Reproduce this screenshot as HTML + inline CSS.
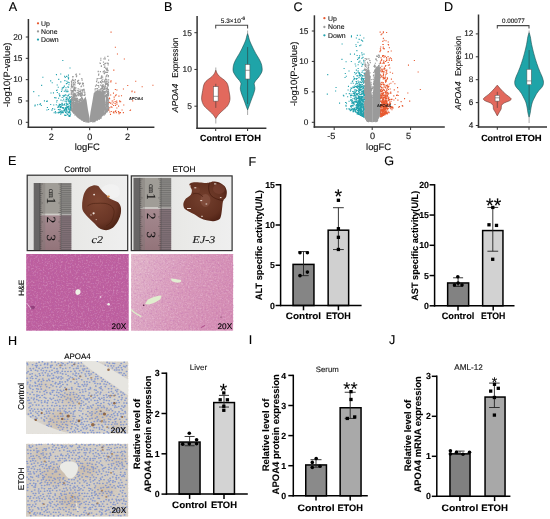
<!DOCTYPE html>
<html><head><meta charset="utf-8"><style>
html,body{margin:0;padding:0;background:#fff;}
text{stroke:currentColor;stroke-width:0.12px;}
svg{text-rendering:geometricPrecision;}
svg{display:block;}
</style></head><body>
<svg width="550" height="519" viewBox="0 0 550 519" font-family='"Liberation Sans", Arial, Helvetica, sans-serif'>
<rect width="550" height="519" fill="#fff"/>
<text x="8.85" y="10.9" font-size="12.6">A</text>
<text x="163.9" y="10.9" font-size="12.6">B</text>
<text x="293.6" y="11.1" font-size="12.6">C</text>
<text x="443.9" y="10.9" font-size="12.6">D</text>
<text x="7.9" y="164.9" font-size="12.6">E</text>
<text x="248.5" y="165.8" font-size="12.6">F</text>
<text x="384.3" y="164.8" font-size="12.6">G</text>
<text x="7.9" y="344.9" font-size="12.6">H</text>
<text x="248.7" y="343.8" font-size="12.6">I</text>
<text x="388.9" y="343.7" font-size="12.6">J</text>
<line x1="28.4" y1="19" x2="28.4" y2="127.95" stroke="#333" stroke-width="1.5" />
<line x1="27.65" y1="127.2" x2="154.4" y2="127.2" stroke="#333" stroke-width="1.5" />
<line x1="25.8" y1="122.3" x2="28.4" y2="122.3" stroke="#333" stroke-width="1" />
<text x="22.4" y="124.8" text-anchor="end" fill="#1a1a1a" font-size="8.3">0</text>
<line x1="25.8" y1="100.97" x2="28.4" y2="100.97" stroke="#333" stroke-width="1" />
<text x="22.4" y="103.47" text-anchor="end" fill="#1a1a1a" font-size="8.3">5</text>
<line x1="25.8" y1="79.65" x2="28.4" y2="79.65" stroke="#333" stroke-width="1" />
<text x="22.4" y="82.15" text-anchor="end" fill="#1a1a1a" font-size="8.3">10</text>
<line x1="25.8" y1="58.33" x2="28.4" y2="58.33" stroke="#333" stroke-width="1" />
<text x="22.4" y="60.83" text-anchor="end" fill="#1a1a1a" font-size="8.3">15</text>
<line x1="25.8" y1="37" x2="28.4" y2="37" stroke="#333" stroke-width="1" />
<text x="22.4" y="39.5" text-anchor="end" fill="#1a1a1a" font-size="8.3">20</text>
<line x1="51.8" y1="127.2" x2="51.8" y2="130.2" stroke="#333" stroke-width="1" />
<text x="51.2" y="139.6" text-anchor="middle" fill="#1a1a1a" font-size="9.1">2</text>
<line x1="89.7" y1="127.2" x2="89.7" y2="130.2" stroke="#333" stroke-width="1" />
<text x="89.7" y="139.6" text-anchor="middle" fill="#1a1a1a" font-size="9.1">0</text>
<line x1="127.6" y1="127.2" x2="127.6" y2="130.2" stroke="#333" stroke-width="1" />
<text x="127.6" y="139.6" text-anchor="middle" fill="#1a1a1a" font-size="9.1">2</text>
<text x="87.2" y="150" text-anchor="middle" fill="#111" font-size="9.4">logFC</text>
<text transform="translate(10.2,74.7) rotate(-90)" text-anchor="middle" fill="#111" font-size="9.2" textLength="64.4" lengthAdjust="spacingAndGlyphs">-log10(P-value)</text>
<circle cx="38" cy="23.3" r="1.15" fill="#E8592F"/>
<text x="41" y="25.7" fill="#222" font-size="6.9">Up</text>
<circle cx="38" cy="31.4" r="1.15" fill="#9A9A9A"/>
<text x="41" y="33.8" fill="#222" font-size="6.9">None</text>
<circle cx="38" cy="39.6" r="1.15" fill="#22A2AE"/>
<text x="41" y="42" fill="#222" font-size="6.9">Down</text>
<path d="M72.5 104L75 103L78 102.5L81 101.5L84 99L85.5 96.5L86.6 100.5L88 110L89.7 118.5L89.7 122.2L85 121.6L80 119.6L77 117.3L75 114.8L73 111.6L72.2 108Z" fill="#9A9A9A"/>
<path d="M89.7 118.5L90.5 112L92.3 102L93.8 93L96 91L99 90.5L102 91.5L104.5 93.5L105.3 98L105.3 106L104.8 111.5L104 114.8L100 118.8L95 121.4L89.7 122.2Z" fill="#9A9A9A"/>
<path d="M105.18 103.23h1.2M73.59 94.25h1.2M107.38 56.27h1.2M71.29 103.69h1.2M106.46 81.29h1.2M70.17 106.72h1.2M107.31 102.38h1.2M72.92 101.4h1.2M106.69 88.44h1.2M77.38 102.13h1.2M106.95 84.72h1.2M81.68 94.86h1.2M106.5 100.98h1.2M104.58 86.51h1.2M98.17 74.06h1.2M77.6 82.23h1.2M79.89 98.96h1.2M76.8 102.14h1.2M104.92 110h1.2M70.78 106.67h1.2M83.88 95.09h1.2M107.31 93.24h1.2M70.83 81.71h1.2M70.96 98.6h1.2M98.08 82.47h1.2M100.21 78.39h1.2M104.29 81.23h1.2M73.19 101.41h1.2M107.8 75.54h1.2M73.33 97.19h1.2M71.28 100.14h1.2M104.48 96.74h1.2M100.7 78.15h1.2M101.88 86.32h1.2M82.1 99.05h1.2M107.37 100.73h1.2M72.98 112.95h1.2M70.87 108.81h1.2M100.75 66.36h1.2M70.56 102.47h1.2M104.5 112.72h1.2M105.5 92.23h1.2M103.48 89.51h1.2M105.94 102.34h1.2M78.23 91.04h1.2M82.29 92.2h1.2M105.99 101.37h1.2M106.12 110.74h1.2M102.19 79.23h1.2M78.04 95.67h1.2M106.85 99.18h1.2M106.89 99.4h1.2M106.42 70.17h1.2M101.07 80.24h1.2M105.22 111.09h1.2M74.13 99h1.2M82.09 90.28h1.2M70.82 107.8h1.2M96.01 81.63h1.2M106.85 109.23h1.2M105.28 111.64h1.2M72.5 76.6h1.2M92.93 121.71h1.2M96.72 90.44h1.2M104 88.54h1.2M96.86 88.56h1.2M107.39 83.98h1.2M79.94 90.78h1.2M104.13 80.27h1.2M70.55 104.85h1.2M78.95 84.49h1.2M108.05 92.85h1.2M107.3 110.23h1.2M79.66 91.35h1.2M106.8 97.68h1.2M107.86 93.31h1.2M71.86 80.12h1.2M105.98 103.54h1.2M76.08 99.92h1.2M107.62 63.28h1.2M72.94 85.1h1.2M107.03 106.44h1.2M107.25 83.17h1.2M107.96 60.21h1.2M74.47 88.4h1.2M104.86 79.58h1.2M71.65 110.88h1.2M73.43 100.4h1.2M98.38 90.09h1.2M98.43 78.51h1.2M73.83 89.49h1.2M104.96 68.07h1.2M104.77 104.54h1.2M105.57 76.41h1.2M76.84 100.4h1.2M70.99 102.07h1.2M106.78 94.25h1.2M98.08 82.65h1.2M73.36 101.79h1.2M75.6 99.88h1.2M78.51 101.43h1.2M106.85 93.14h1.2M104.83 105.24h1.2M102.5 89.76h1.2M101.75 81.46h1.2M106.45 95.19h1.2M81.22 78.66h1.2M74.5 102.62h1.2M71.53 110.09h1.2M76.69 100.34h1.2M80.02 93.68h1.2M104.8 107.06h1.2M72.03 76.94h1.2M70.56 102.47h1.2M75.86 98.92h1.2M70.2 89.01h1.2M102.22 88.62h1.2M106.36 97.56h1.2M104.9 112.18h1.2M76.12 95.43h1.2M70.62 104.54h1.2M105.97 98.99h1.2M105.04 104.53h1.2M85.77 121.84h1.2M107.37 85.23h1.2M70.85 105.73h1.2M76.15 99.39h1.2M75.52 101.23h1.2M107.55 98.48h1.2M77.62 83.44h1.2M82.63 89.5h1.2M75.29 87.93h1.2M74.8 94.62h1.2M81.09 93.23h1.2M71.36 108.87h1.2M107.56 64.78h1.2M100.61 117.76h1.2M106.51 96.83h1.2M101.92 85.58h1.2M97.65 82.74h1.2M72.12 98.07h1.2M104.69 58.94h1.2M95.38 88.54h1.2M73.89 95.63h1.2M106.19 112.09h1.2M104.08 87.29h1.2M71.33 83.87h1.2M81.34 89.94h1.2M77.41 92.54h1.2M72.05 110.81h1.2M104.27 81.44h1.2M105.27 95.45h1.2M79.66 100.12h1.2M77.21 90.57h1.2M107.59 109.63h1.2M106.21 108.98h1.2M70.82 102.3h1.2M80.12 100.69h1.2M72.9 84.83h1.2M73.5 93.45h1.2M106.93 110.41h1.2M107.53 107.74h1.2M71.64 108.32h1.2M107.34 95.24h1.2M71.65 105.47h1.2M107.8 91.45h1.2M105.65 105.58h1.2M104.53 113.83h1.2M73.3 88.17h1.2M71.7 109.74h1.2M71.08 98.96h1.2M107.13 105.1h1.2M96.69 120.21h1.2M71.04 105.7h1.2M105.87 88.6h1.2M80.62 98.98h1.2M104.62 113.42h1.2M107.18 108.13h1.2M70.19 100.18h1.2M106.87 104.62h1.2M83.29 95.38h1.2M106.68 83.26h1.2M72.55 111.95h1.2M74.02 99.99h1.2M76.31 92.89h1.2M102.09 88.15h1.2M101.64 90.95h1.2M106.93 108.78h1.2M72 97.17h1.2M107.81 107.79h1.2M100.49 88.56h1.2M107.33 102.56h1.2M105.53 108.26h1.2M72.09 111.42h1.2M77.81 94.09h1.2M72.33 102.98h1.2M80.65 86.76h1.2M71.16 108.76h1.2M70.55 107.27h1.2M106.51 111.51h1.2M107.52 108.56h1.2M106.17 103.79h1.2M104.63 113.66h1.2M70.51 101.69h1.2M77.91 92.91h1.2M106.07 105.96h1.2M107.65 107.49h1.2M74.48 93.37h1.2M105.46 110.37h1.2M105.69 84.1h1.2M107.81 108.77h1.2M79.65 99.88h1.2M79.31 100.09h1.2M102.56 92.4h1.2M71.54 106.42h1.2M102.93 86.81h1.2M86.48 121.95h1.2M105.82 97.33h1.2M107.85 90.73h1.2M80.95 95.69h1.2M81.01 97.32h1.2M105.54 105h1.2M101.25 86.71h1.2M73.92 87.36h1.2M104.18 66.12h1.2M71.03 98.81h1.2M107.77 101.77h1.2M79.75 99.69h1.2M70.75 86.93h1.2M105.95 75.77h1.2M71.07 105.66h1.2M74.37 96.35h1.2M106.92 99.05h1.2M102.89 62.17h1.2M85.82 121.9h1.2M75.98 96.22h1.2M71.23 109.66h1.2M81.55 80.16h1.2M94.52 90.99h1.2M74.39 84.98h1.2M94.94 86.05h1.2M106.02 98.73h1.2M72.03 90.57h1.2M72.49 103.76h1.2M70.49 103.77h1.2M106.77 111.21h1.2M72.16 111.14h1.2M72.3 95.26h1.2M71.97 100.35h1.2M105.56 90.27h1.2M92.13 121.98h1.2M104.89 112.47h1.2M74.54 93.69h1.2M81.9 84.04h1.2M74.83 90.73h1.2M74.14 98.5h1.2M107.32 104.13h1.2M72.58 92.04h1.2M81.77 98.26h1.2M71.48 97.08h1.2M106.19 88.66h1.2M104.24 72.74h1.2M106.19 91.55h1.2M81.17 97.14h1.2M102.73 84.84h1.2M72.21 79.42h1.2M105.91 101.05h1.2M78.95 83.32h1.2M74.33 81.21h1.2M104.33 112.65h1.2M107.63 104.13h1.2M71.27 101.01h1.2M107.4 91.72h1.2M102.57 91.37h1.2M107.01 97.64h1.2M106.15 70.1h1.2M102.69 71.85h1.2M70.91 102.58h1.2M105.52 111.5h1.2M71.36 109.81h1.2M103.09 64.68h1.2M71.06 110.43h1.2M70.18 108.7h1.2M100.25 58.27h1.2M70.72 92.77h1.2M79.03 93.61h1.2M79.81 94.61h1.2M73.13 96.3h1.2M70.67 102.02h1.2M104.81 111.32h1.2M77.94 93.17h1.2M106.55 68.18h1.2M83.11 89.4h1.2M75.52 101.18h1.2M105.99 108.9h1.2M75.29 102.38h1.2M106.13 102.39h1.2M80.5 86.67h1.2M106.05 110.92h1.2M105.18 102.03h1.2M100.2 60.07h1.2M77.38 83.42h1.2M107.21 110.31h1.2M76.71 101.35h1.2M78.48 99.55h1.2M70.73 106.01h1.2M104.78 109.56h1.2M105.62 81.77h1.2M106.06 106.86h1.2M73.82 100.45h1.2M70.21 101.4h1.2M106.92 105.8h1.2M101.57 91.28h1.2M79.8 91.79h1.2M81.16 98.44h1.2M101.76 90.66h1.2M107.24 70.32h1.2M79.4 89.27h1.2M71.02 102.19h1.2M105.49 96.25h1.2M72.59 99.72h1.2M103.04 92.07h1.2M99.92 85.05h1.2M71.02 108.66h1.2M82.68 89.84h1.2M104.7 108.4h1.2M106.23 96.4h1.2M106.63 87.41h1.2M71.49 87.72h1.2M72.8 112.48h1.2M106.11 95.67h1.2M106.5 109.59h1.2M103.82 114.02h1.2M71.91 97.17h1.2M88.1 122.08h1.2M106.3 80.99h1.2M78.52 94.78h1.2M79.91 100.98h1.2M84.4 94.44h1.2M107.15 85.83h1.2M97.59 71.63h1.2M78.71 101.32h1.2M70.78 104h1.2M77.6 88.91h1.2M72.42 102.19h1.2M101.28 88.03h1.2M107.56 107.84h1.2M97.69 71.39h1.2M81.11 100.8h1.2M103.22 71.66h1.2M101.19 85.73h1.2M107.56 106.13h1.2M75.84 76.69h1.2M104.84 95.48h1.2M103.6 81.84h1.2M71.94 97.8h1.2M72.52 90.8h1.2M70.94 96.39h1.2M103.77 92.28h1.2M100.04 82.32h1.2M103.07 86.44h1.2M104.9 84.47h1.2M106.95 98.37h1.2M107.68 108.77h1.2M107.8 109.66h1.2M70.83 107.52h1.2M72.91 96.11h1.2M82.8 83.36h1.2M71.45 92.26h1.2M71.28 109h1.2M105.6 112.14h1.2M104.92 95.51h1.2M107.28 92.67h1.2M72 111.75h1.2M107.4 102.93h1.2M77.34 102.42h1.2M73.11 89.61h1.2M71.42 108.8h1.2M72.11 91.4h1.2M71.57 111.18h1.2M73.43 113.3h1.2M104.88 113.13h1.2M82.88 121.08h1.2M105.77 110.35h1.2M104.57 113.43h1.2M96.66 78.68h1.2M98.21 87.18h1.2M106.49 74.73h1.2M108.01 79.94h1.2M70.19 109.55h1.2M70.22 104.86h1.2M102.62 71.84h1.2M99.82 63.48h1.2M71.51 104.09h1.2M70.56 102.38h1.2M107.69 84.53h1.2M108.04 108.76h1.2M84.09 95.43h1.2M103.9 92.47h1.2M72.59 99.43h1.2M105.61 106.24h1.2M75.6 98.14h1.2M104.28 89.1h1.2M81.56 90.91h1.2M72.94 82.57h1.2M106.11 96.62h1.2M104.39 88.64h1.2M71.69 103.31h1.2M106.16 79.7h1.2M107.09 95.82h1.2M75.03 101.16h1.2M103.37 58.79h1.2M102.24 90.52h1.2M73.96 95.37h1.2M105.07 107.68h1.2M103.96 113.39h1.2M78.71 93.8h1.2M70.72 103.13h1.2M71.47 104.86h1.2M83.78 90.97h1.2M74.92 95.85h1.2M107.74 95.97h1.2M104.15 63.78h1.2M100.05 90.21h1.2M71.94 109.92h1.2M106.5 105.7h1.2M102.2 90.25h1.2M70.19 100.09h1.2M73.68 88.45h1.2M76.17 95.91h1.2M107.18 107.59h1.2M105.67 108.98h1.2M78.91 91.53h1.2M105.86 83.08h1.2M71.29 106.6h1.2M70.72 93.03h1.2M100.87 76.88h1.2M105.7 109.7h1.2M107.73 106.35h1.2M77.88 91.01h1.2M105.87 97.86h1.2M72.54 112.16h1.2M71.06 109.54h1.2M100.18 89.1h1.2M104.03 93.76h1.2M75.62 99.51h1.2M81.79 95.07h1.2M70.42 106.86h1.2M97.95 85.69h1.2M73.22 98.87h1.2M105.58 100.73h1.2M71.42 103.52h1.2M103.7 70.88h1.2M105.78 69.19h1.2M104.54 85.53h1.2M107.74 103.89h1.2M70.88 109.43h1.2M99.96 81.6h1.2M75.71 74.13h1.2M106.55 63.07h1.2M105.22 83.52h1.2M102.31 88.62h1.2M72.47 97.04h1.2M107.7 100.42h1.2M104.26 93.63h1.2M74.27 114.79h1.2M104.75 95.6h1.2M70.93 86.5h1.2M95.96 81.71h1.2M100.78 65.86h1.2M87.57 122.07h1.2M83.92 121.51h1.2M107.49 95.73h1.2M107.7 99.96h1.2M70.58 105.42h1.2M81.58 93.65h1.2M98.49 89.87h1.2M107.65 85.91h1.2M75.25 74.6h1.2M107.33 102.68h1.2M72.8 99.91h1.2M103.84 73.71h1.2M79.74 98.84h1.2M106.11 110.02h1.2M70.2 90.75h1.2M72.45 86.67h1.2M81.03 94.11h1.2M106.37 106.19h1.2M82.04 99.88h1.2M71.27 99.89h1.2M76.06 75.89h1.2M104.85 72.14h1.2M84.13 92.87h1.2M71.75 86.41h1.2M80.1 99.17h1.2M100.18 118.31h1.2M73.55 99.88h1.2M74.72 82.66h1.2M102.33 81.97h1.2M76.59 101.71h1.2M105.85 108.76h1.2M70.31 108.13h1.2M73.32 94.31h1.2M74.49 102.8h1.2M100.5 89.71h1.2M71.22 86.9h1.2M101.79 88.37h1.2M107.53 104.72h1.2M106.87 88.27h1.2M103.6 73.5h1.2M72.56 99.33h1.2M106.25 100.6h1.2M105.91 97.98h1.2M105.43 109.33h1.2M71.24 91.39h1.2M70.73 100.1h1.2M104.71 91.67h1.2M79.93 95.4h1.2M95.86 84.93h1.2M73.94 96.57h1.2M75.53 99.37h1.2M105.49 84.41h1.2M94.48 89.16h1.2M71.2 105.55h1.2M103.75 67.51h1.2M76.91 98.86h1.2M77.17 80.91h1.2M107.37 99.4h1.2M107.88 94.02h1.2M70.81 99.78h1.2M73.58 100.63h1.2M106.91 100.51h1.2M73.51 90.59h1.2M82.41 84.05h1.2M71.91 99.51h1.2M79.14 74.21h1.2M79.85 96.16h1.2M80.17 95.48h1.2M106.15 90.14h1.2M70.74 109.72h1.2M71.26 108.79h1.2M70.9 108.44h1.2M70.63 109.55h1.2M106.86 94.27h1.2M104.65 95.89h1.2M105.18 102.7h1.2M107.88 103.18h1.2M107.91 99.86h1.2M73.37 101.42h1.2M75.73 102.77h1.2M107.85 94.03h1.2M80.91 85.98h1.2M105.96 102.64h1.2M70.4 102.03h1.2M106.08 101.65h1.2M71.09 82.45h1.2M106.71 103.98h1.2M70.63 94.39h1.2M78.98 101.07h1.2M96.56 85.5h1.2M83.95 121.45h1.2M106.2 109.7h1.2M70.88 85.19h1.2M105.73 94.55h1.2M101.37 88.31h1.2M72.37 102.19h1.2M105.94 102.22h1.2M77.94 101.15h1.2M81 92.96h1.2M79.4 83.11h1.2M73.69 95.22h1.2M102.02 77.11h1.2M105.41 104.47h1.2M93.73 121.6h1.2M81.9 83.04h1.2M105.8 111.27h1.2M71.14 102.05h1.2M73.72 98.66h1.2M71.2 90.48h1.2M72.96 80.59h1.2M74.43 97.82h1.2M70.22 108.87h1.2M105.81 100.03h1.2M99.36 63.01h1.2M71.61 100.17h1.2M76.98 81.28h1.2M79.69 83.37h1.2M105.3 96.27h1.2M72.79 97.38h1.2M74.58 98.9h1.2M76.79 98.27h1.2M71.61 105.21h1.2M101.87 86.97h1.2M98.6 119.34h1.2M106.41 111.22h1.2M76.24 101.04h1.2M73.04 90.44h1.2M106.93 72.33h1.2M80.44 92.94h1.2M71.23 100.08h1.2M72.24 93.92h1.2M98.72 90.09h1.2M81.41 99.8h1.2M71.23 99.93h1.2M72.82 103.31h1.2M107.53 84.78h1.2M105.07 86.89h1.2M74.35 90.39h1.2M81.45 120.46h1.2M107.3 102.84h1.2M106.85 109.86h1.2M71.08 81.07h1.2M73.43 95.31h1.2M105.86 72.4h1.2M106.31 111.13h1.2M74.06 84.01h1.2M83.52 89.3h1.2M87.53 122.07h1.2M104.73 109.88h1.2M71.2 96.85h1.2M103.07 89.17h1.2M72.33 102.13h1.2M73.42 88.88h1.2M106.5 109.14h1.2M106.76 95.49h1.2M70.37 104.05h1.2M70.81 103.36h1.2M105.18 78.22h1.2M74.46 99.93h1.2M104.59 93.12h1.2M96.32 80.08h1.2M105.82 106.8h1.2M94.26 121.54h1.2M73.63 102.68h1.2M107.65 76.77h1.2M107.97 108.42h1.2M101.17 75.77h1.2M105.16 111.86h1.2M106.75 105.77h1.2M104.46 88.84h1.2M107.16 109.19h1.2M106.4 90.88h1.2M107.3 103.34h1.2M71.05 86.15h1.2M105.8 111.59h1.2M73.27 101.48h1.2M106.25 109.41h1.2M104.81 63.33h1.2M83.62 121.37h1.2M72.31 94.84h1.2M105.28 106.64h1.2M71.68 108.42h1.2M101.78 85.16h1.2M70.81 110.13h1.2M70.39 104.71h1.2M74.99 90.9h1.2M76.78 94.82h1.2M107.84 89.51h1.2M107.2 56.29h1.2M72 102.69h1.2M107.99 82.08h1.2M78.03 80.33h1.2M105.65 107.06h1.2M104.96 84.44h1.2M85.34 121.91h1.2M106.86 83.62h1.2M73.15 84.09h1.2M101.03 82.86h1.2M75.07 90.14h1.2M106.49 104.58h1.2M99.81 71.53h1.2M72.74 102.95h1.2M70.94 83.9h1.2M104.65 82.96h1.2M107.12 89.4h1.2M74.14 87.01h1.2M82.91 85.85h1.2M71.56 102.25h1.2M72.96 101.61h1.2M103.57 91.31h1.2M105.87 95.93h1.2M104.68 113.97h1.2M84.17 92.38h1.2M108.03 95.1h1.2M74.76 79.6h1.2M107.48 70.63h1.2M103.46 115.09h1.2M106.7 69.35h1.2M97.95 75.18h1.2M104.25 57.27h1.2" stroke="#9A9A9A" stroke-width="1.2" fill="none"/>
<path d="M60.16 114.14h1.1M65.45 87.73h1.1M50.43 93.04h1.1M68.02 99.77h1.1M50.16 104.53h1.1M69.36 116.4h1.1M68.22 101.68h1.1M64.56 101.17h1.1M64.91 108.56h1.1M65.6 97.43h1.1M62.9 96.75h1.1M62.67 105.04h1.1M60.45 112.23h1.1M33.18 91.67h1.1M64.03 96.07h1.1M51.37 110.14h1.1M60.23 111.2h1.1M66.12 99.37h1.1M68.75 82.74h1.1M64.91 89.98h1.1M66.94 82.98h1.1M66.5 98.38h1.1M69.12 111.22h1.1M67.52 91.22h1.1M68.59 94.31h1.1M60.95 91.54h1.1M54.98 113.02h1.1M57.71 87.23h1.1M59.41 95.83h1.1M68.92 115.47h1.1M57.75 106.44h1.1M57.92 106.97h1.1M65.75 91.78h1.1M68.58 112.07h1.1M65.85 109.09h1.1M57.31 107.57h1.1M67.3 106.59h1.1M58.07 98.27h1.1M70.09 114.05h1.1M58.61 93.83h1.1M64.59 109.19h1.1M60.59 106.43h1.1M67.83 95.39h1.1M65.76 109.4h1.1M69.95 109.73h1.1M46.79 101.11h1.1M61.46 112.1h1.1M61.49 105.51h1.1M69.33 101.1h1.1M60.68 110.69h1.1M67.2 107.6h1.1M56.51 100.55h1.1M67.1 114.42h1.1M67.47 104.17h1.1M62.33 87.83h1.1M68.42 107.84h1.1M69.89 105.01h1.1M53.19 104.99h1.1M59.27 95.39h1.1M67.92 112.75h1.1M56.03 90.44h1.1M61.27 104.98h1.1M65.5 91.26h1.1M62.26 60.55h1.1M59.22 106.9h1.1M67.12 91.65h1.1M39.99 103.86h1.1M62.78 107.62h1.1M58.17 79.42h1.1M69.85 107.74h1.1M67.44 114.77h1.1M57.86 109.51h1.1M66.63 111.99h1.1M63.98 103.97h1.1M62.43 95.44h1.1M60.67 106.99h1.1M66.37 81.24h1.1M56.46 112.74h1.1M69.47 103.49h1.1M65.76 113.06h1.1M59.9 104.66h1.1M67.8 95.71h1.1M65.83 107.1h1.1M54.82 111.66h1.1M34.6 105.09h1.1M66.42 111.24h1.1M47.97 109.47h1.1M65.76 102.03h1.1M67.69 82.2h1.1M66.42 104.11h1.1M66.49 99.6h1.1M65.62 105.38h1.1M61.47 89.86h1.1M62.15 111.27h1.1M68.57 112.29h1.1M68.46 106.13h1.1M66.94 107.38h1.1M43.89 100.87h1.1M57.67 105.7h1.1M63.96 76.26h1.1M61.73 107.58h1.1M61.84 87.97h1.1M59.02 112.33h1.1M66.8 114.05h1.1M68.13 78.02h1.1M66.06 76.42h1.1M63.06 87.36h1.1M41.09 85.39h1.1M61.72 88.16h1.1M58.75 104.27h1.1M50.14 80.89h1.1M65.34 95.19h1.1M58.89 104.75h1.1M61.83 103.97h1.1M69.92 97.27h1.1M69.21 112.83h1.1M64.62 107.95h1.1M67.93 112.11h1.1M46.09 101.36h1.1M65.69 103.44h1.1M68.43 109.77h1.1M69.59 115.08h1.1M68.73 98.15h1.1M59.47 111.91h1.1M56.16 102.04h1.1M68.36 84.68h1.1M63.11 99.2h1.1M67.58 77.09h1.1M39.4 104.35h1.1M69.75 102.39h1.1M67.94 115.99h1.1M68.03 87.22h1.1M61.49 103.38h1.1M69.87 104.26h1.1M52.92 92.86h1.1M66.42 111h1.1M58.12 113.03h1.1M68.6 108.79h1.1M66.35 106.89h1.1M52.12 108.58h1.1M59.94 106.67h1.1M67.13 104.78h1.1M64.03 111.07h1.1M63.06 110.97h1.1M66.36 101.01h1.1M65.86 83.63h1.1M68.75 111.72h1.1M59.53 109.41h1.1M67.39 86.9h1.1M69.45 112.41h1.1M63.71 110.91h1.1M62.38 100.72h1.1M69.77 105.23h1.1M59.13 105.34h1.1M62.42 107.9h1.1M66.22 104.03h1.1M68.19 106.34h1.1M58.76 110.04h1.1M56.6 90h1.1M69.46 67.99h1.1M64.33 80.63h1.1M56.67 85h1.1M66.69 98.01h1.1M65.53 115.29h1.1M63.85 104.85h1.1M51.69 82.8h1.1M68.99 116.45h1.1M69.12 96.83h1.1M57.88 112.3h1.1M69.67 110.19h1.1M65.85 108.6h1.1M56.8 92.46h1.1M63.8 91.22h1.1M65.52 107.65h1.1M42.31 77.21h1.1M67.9 75.17h1.1M68.26 100.59h1.1M55.78 104.76h1.1M62.01 112.67h1.1M58.98 95.89h1.1M61.6 103.93h1.1M65.11 94.69h1.1M62.71 108.51h1.1M53.59 112.79h1.1M68.76 109.92h1.1M46.36 110.03h1.1M63.65 109.23h1.1M64.06 115.15h1.1M55.4 97.91h1.1M63.69 95.28h1.1M69.93 106.8h1.1M54.14 109.18h1.1M60.24 81.88h1.1M66.14 109.97h1.1M60.47 100.12h1.1M66.46 90.05h1.1M70.15 99.86h1.1M70.18 101.61h1.1M67.64 109.02h1.1M66.83 95.93h1.1M60.71 112.87h1.1M70.1 108.28h1.1M65.09 115.42h1.1M65.39 99.3h1.1M63.68 110.66h1.1M61.64 97.56h1.1M62.94 112.73h1.1M59.91 107.4h1.1M68.91 103.09h1.1M61.34 103.81h1.1M66.4 104.02h1.1M40.76 105.48h1.1M34.38 106.01h1.1M64.28 109.97h1.1M63.84 86.11h1.1M54.15 97.59h1.1M55.88 74.63h1.1M68.63 115.89h1.1M62.2 110.94h1.1M64.86 107.72h1.1M37.05 104.78h1.1M67.91 78.83h1.1M64.95 112.42h1.1M64.85 115.48h1.1M65.24 110.93h1.1M64.71 77.34h1.1M46.86 107.51h1.1M38.29 95.77h1.1M68.55 98.87h1.1M60.19 74.06h1.1" stroke="#22A2AE" stroke-width="1.1" fill="none"/>
<path d="M113.29 70.14h1.1M123.79 59.02h1.1M119.15 100.91h1.1M111.62 100.97h1.1M112.94 93.11h1.1M114.97 105.38h1.1M141.62 86.79h1.1M129.53 110.5h1.1M110.79 107h1.1M113.06 105.47h1.1M130.12 97.45h1.1M132.18 100.88h1.1M116.35 89.98h1.1M108.86 98.04h1.1M114.62 101.5h1.1M123.22 104.98h1.1M131.44 91.58h1.1M115.35 83.24h1.1M116.33 108.03h1.1M109.07 98.62h1.1M119.87 112.67h1.1M118.57 112.42h1.1M113.1 112.09h1.1M118.03 106.13h1.1M109.9 103.12h1.1M116.28 102.55h1.1M118.38 96.08h1.1M112.69 102.74h1.1M114.83 47.26h1.1M135.17 81.24h1.1M110.78 111.47h1.1M116.39 104.16h1.1M108.33 110.17h1.1M115.21 110.86h1.1M110.57 106.86h1.1M131.54 91.06h1.1M113.33 111.71h1.1M127.18 85.49h1.1M113.69 99.25h1.1M111.46 107.27h1.1M122.83 112.66h1.1M113.36 112.95h1.1M112.79 112.29h1.1M114.92 95.76h1.1M112.31 100.93h1.1M117.9 111.59h1.1M115.63 94.92h1.1M115.77 112.67h1.1M118.37 113.7h1.1M120.95 95.71h1.1M108.75 102.42h1.1M109.25 111.95h1.1M114.83 89.49h1.1M110.11 95.02h1.1M109.94 114.39h1.1M110.29 81.9h1.1M129.98 109.93h1.1M118.7 113.75h1.1M110.42 103.07h1.1M116.91 53.93h1.1M113.21 70.32h1.1M119.35 101.6h1.1M121.53 110.07h1.1M113.62 97.17h1.1M122.88 89.01h1.1M109.18 107.73h1.1M110.5 32.1h1.1M152.37 85.19h1.1M111.76 104.24h1.1M134.18 92.17h1.1M116.17 101.1h1.1M110.49 80.78h1.1M114.94 111.47h1.1M120.13 101.71h1.1M114.56 103.33h1.1" stroke="#E8592F" stroke-width="1.1" fill="none"/>
<text x="129" y="100.3" fill="#333" font-size="4.2">APOA4</text>
<line x1="314.4" y1="15.3" x2="314.4" y2="127.75" stroke="#333" stroke-width="1.5" />
<line x1="313.65" y1="127" x2="444.8" y2="127" stroke="#333" stroke-width="1.5" />
<line x1="311.8" y1="122.3" x2="314.4" y2="122.3" stroke="#333" stroke-width="1" />
<text x="308.4" y="124.8" text-anchor="end" fill="#1a1a1a" font-size="8.3">0</text>
<line x1="311.8" y1="91.86" x2="314.4" y2="91.86" stroke="#333" stroke-width="1" />
<text x="308.4" y="94.36" text-anchor="end" fill="#1a1a1a" font-size="8.3">5</text>
<line x1="311.8" y1="61.43" x2="314.4" y2="61.43" stroke="#333" stroke-width="1" />
<text x="308.4" y="63.93" text-anchor="end" fill="#1a1a1a" font-size="8.3">10</text>
<line x1="311.8" y1="31" x2="314.4" y2="31" stroke="#333" stroke-width="1" />
<text x="308.4" y="33.5" text-anchor="end" fill="#1a1a1a" font-size="8.3">15</text>
<line x1="334.2" y1="127" x2="334.2" y2="130" stroke="#333" stroke-width="1" />
<text x="331.4" y="139.4" text-anchor="middle" fill="#1a1a1a" font-size="9.1">-5</text>
<line x1="372.2" y1="127" x2="372.2" y2="130" stroke="#333" stroke-width="1" />
<text x="372.6" y="139.4" text-anchor="middle" fill="#1a1a1a" font-size="9.1">0</text>
<line x1="410.6" y1="127" x2="410.6" y2="130" stroke="#333" stroke-width="1" />
<text x="408.6" y="139.4" text-anchor="middle" fill="#1a1a1a" font-size="9.1">5</text>
<text x="378.6" y="150" text-anchor="middle" fill="#111" font-size="9.4">logFC</text>
<text transform="translate(297.4,73.8) rotate(-90)" text-anchor="middle" fill="#111" font-size="9.2" textLength="64.5" lengthAdjust="spacingAndGlyphs">-log10(P-value)</text>
<circle cx="324.4" cy="18.2" r="1.15" fill="#E8592F"/>
<text x="328" y="20.6" fill="#222" font-size="6.9">Up</text>
<circle cx="324.4" cy="27" r="1.15" fill="#9A9A9A"/>
<text x="328" y="29.4" fill="#222" font-size="6.9">None</text>
<circle cx="324.4" cy="35.3" r="1.15" fill="#22A2AE"/>
<text x="328" y="37.7" fill="#222" font-size="6.9">Down</text>
<path d="M350.9 109.49h1.1M359.6 103.49h1.1M361.06 103.38h1.1M360.86 102.87h1.1M343.23 95.85h1.1M358.7 86.21h1.1M353.3 93.15h1.1M359.93 94.53h1.1M356.79 104.16h1.1M355.6 90.08h1.1M357.62 87h1.1M360.17 102.85h1.1M362.27 108.25h1.1M360.24 111.06h1.1M362.47 109.84h1.1M362.9 79.63h1.1M360.29 107.91h1.1M360.04 98.36h1.1M355.04 86.6h1.1M356.85 108.28h1.1M356.34 50.6h1.1M359.69 35.19h1.1M361.08 80.08h1.1M363.26 37.96h1.1M361.4 107.1h1.1M360.91 114.4h1.1M360.98 111.38h1.1M359.64 113.14h1.1M362.58 112.86h1.1M362.05 104.73h1.1M359.37 102.58h1.1M354.64 64.03h1.1M356.48 102.43h1.1M359.49 109.51h1.1M355.79 102.22h1.1M356.25 75.76h1.1M361.07 94.47h1.1M352.42 105.89h1.1M359.45 113.65h1.1M359.35 97.46h1.1M362.73 103.97h1.1M357.62 81.02h1.1M363.81 73.49h1.1M362.28 103.77h1.1M360.32 113.98h1.1M354.07 96.01h1.1M362.73 100.71h1.1M361.74 70.94h1.1M362.32 101.78h1.1M359.85 108.11h1.1M356.08 104.48h1.1M358.2 104.16h1.1M362.48 79.93h1.1M359.24 108.23h1.1M362.31 111.44h1.1M359.35 112.83h1.1M357.79 111.84h1.1M351.91 105.33h1.1M359.38 109.2h1.1M362.69 81.11h1.1M362.53 107.09h1.1M362.49 87.67h1.1M361.55 91.64h1.1M351.19 88.36h1.1M363.44 96.75h1.1M362.8 88.34h1.1M361.81 84.47h1.1M355.77 93.57h1.1M362.34 114.68h1.1M360.87 111.07h1.1M360.27 99.22h1.1M355.68 101.17h1.1M357.7 58.05h1.1M355.19 66.03h1.1M360.56 105.54h1.1M363.59 78.66h1.1M344.49 77.43h1.1M357.55 109.38h1.1M358.66 102.91h1.1M361.93 97.21h1.1M363.82 93.3h1.1M358.29 110.74h1.1M348.77 93.64h1.1M356.15 101.72h1.1M347.9 86.41h1.1M354.98 111.91h1.1M359 113.93h1.1M354.46 102.29h1.1M363.36 93.23h1.1M353.73 108.7h1.1M355.96 98.04h1.1M360.59 113.15h1.1M355.48 91.21h1.1M363.36 96.16h1.1M357.66 109.8h1.1M362.34 99.6h1.1M356.53 106.43h1.1M352.54 93.8h1.1M362.36 113.19h1.1M354.82 110.64h1.1M360.82 39.96h1.1M362.73 115.13h1.1M361.62 88.74h1.1M358.69 108.15h1.1M360.9 87.19h1.1M360.92 114.52h1.1M361.92 115.22h1.1M359.88 112.29h1.1M352.08 80.94h1.1M363.97 99.08h1.1M361.63 81.75h1.1M361.27 97.2h1.1M358.41 73.11h1.1M360.14 107.16h1.1M354.56 108.04h1.1M355.99 79.21h1.1M357.32 102.26h1.1M361.07 99.43h1.1M356.58 55.49h1.1M361.24 96.31h1.1M359.62 87.93h1.1M361.03 100.72h1.1M362.24 111.75h1.1M352.87 110.04h1.1M362.82 106.97h1.1M360.25 98.4h1.1M363 116.26h1.1M352.7 83.21h1.1M363.32 99.29h1.1M363.56 116.18h1.1M356.88 107.49h1.1M352.91 103.36h1.1M361.44 104.2h1.1M362.22 92.82h1.1M357.57 85.81h1.1M352.53 111.63h1.1M353.23 79.7h1.1M355.63 81.45h1.1M357.42 42.27h1.1M354.05 109.49h1.1M352.91 95.9h1.1M355.09 92.22h1.1M361.26 52.88h1.1M363.38 106.07h1.1M355.15 109.76h1.1M357.29 112.56h1.1M359.24 105.92h1.1M362.13 75.81h1.1M354.49 110.39h1.1M361.3 104.25h1.1M345.23 102.57h1.1M356.97 107.81h1.1M356.79 35.39h1.1M345.44 105.31h1.1M361.79 86.69h1.1M359.61 96.19h1.1M357.06 113.15h1.1M359.39 112.7h1.1M339 103.09h1.1M351.96 102.33h1.1M358.79 90.97h1.1M354.2 99.69h1.1M359.29 94.3h1.1M362.88 87.18h1.1M349.97 95.65h1.1M361.69 76.15h1.1M353.65 95.73h1.1M356.81 85.92h1.1M361.95 75.53h1.1M362.23 93.42h1.1M350.49 110.36h1.1M362.51 85.92h1.1M363.68 113.31h1.1M356.04 101.4h1.1M360.66 105.34h1.1M357.04 102.92h1.1M361.24 77.46h1.1M360.9 110.15h1.1M362.77 115.05h1.1M359.76 110.92h1.1M356.11 108.66h1.1M361.85 116.5h1.1M363.85 105.97h1.1M362.48 102.44h1.1M352.5 105.29h1.1M357.67 111.48h1.1M363.02 110.91h1.1M361.41 114.38h1.1M356.44 98.55h1.1M362.61 115.9h1.1M363.05 101.79h1.1M363.3 76h1.1M353.11 93.53h1.1M356.28 83.38h1.1M354.75 73.95h1.1M361.06 78.92h1.1M354.07 72.46h1.1M357.89 106.46h1.1M359.92 82.06h1.1M360.03 109.7h1.1M351.57 100.7h1.1M359.49 89.87h1.1M363.43 101.68h1.1M361.14 104.21h1.1M356.83 113.03h1.1M359.44 104.72h1.1M359.16 114.58h1.1M350.76 107.11h1.1M353.95 54.13h1.1M359.95 111.74h1.1M356.74 110.43h1.1M355.21 84.16h1.1M360.19 87.45h1.1M362.43 112.2h1.1M363.49 107.69h1.1M359.41 60.97h1.1M354.2 108.4h1.1M360.38 84.53h1.1M356.21 112.2h1.1M361.46 93.9h1.1M359.25 84.58h1.1M360.36 45.03h1.1M357.61 114.2h1.1M352.32 98.72h1.1M360.81 112.13h1.1M356.88 83.82h1.1M360.72 98.27h1.1M360.65 99.71h1.1M359.76 109.35h1.1M354.89 95.2h1.1M360.69 109.08h1.1M359.45 100.86h1.1M359.62 103.19h1.1M354.53 97.89h1.1M360.1 104.53h1.1M355.81 93.98h1.1M359.88 115.33h1.1M363.64 91.91h1.1M363.71 109.76h1.1M361.17 115.79h1.1M353.44 101.85h1.1M363.93 99.2h1.1M360.41 89.62h1.1M358.65 89.36h1.1M358.94 109.45h1.1M361.26 86.24h1.1M363.2 90.63h1.1M362.96 115.32h1.1M353.11 76.74h1.1M363.63 116.92h1.1M363.86 95.36h1.1M362.61 107.13h1.1M363.45 114.66h1.1M358.7 73.64h1.1M362.87 93.14h1.1M350.88 36.91h1.1M352.37 87.11h1.1M356.92 76h1.1M363.12 92.34h1.1M358.9 75.25h1.1M354.56 108h1.1M359.49 110.69h1.1M353.46 103.47h1.1M343.55 68.55h1.1M359.94 105.41h1.1M361.45 89.3h1.1M358.95 99.39h1.1M355.97 100.94h1.1M358.53 99.84h1.1M356.05 101.69h1.1M361.68 111.05h1.1M361.75 115.42h1.1M358.78 110.22h1.1M358.96 102.29h1.1M363.45 85.9h1.1M346.15 108.84h1.1M356.71 104.24h1.1M358.28 90.14h1.1M362.96 112.37h1.1M362.43 106.03h1.1M350.09 89.9h1.1M357.31 75.88h1.1M359.94 82.29h1.1M362.92 109.3h1.1M358.52 114h1.1M363.43 108.03h1.1M351.67 106.02h1.1M362.76 108.19h1.1M326.76 94.09h1.1M356.65 94.95h1.1M358.99 108.2h1.1M362.75 115.98h1.1M352.83 103.53h1.1M362.83 108.34h1.1M357.89 101.59h1.1M351.55 108.49h1.1M357.59 70.86h1.1M354.53 101.61h1.1M360.81 114.4h1.1M362.58 104.64h1.1M357.59 105.81h1.1M354.96 101.74h1.1M358.77 57.67h1.1M362.43 101.56h1.1M363.83 101.95h1.1M362.16 103.19h1.1M362.99 60.2h1.1M363.14 70.27h1.1M357.71 100.78h1.1M357.28 104h1.1M360.99 114.62h1.1M345.54 61.74h1.1M350.56 83.31h1.1M350.48 94.14h1.1M359.85 108.59h1.1M360.79 96.32h1.1M360.06 111.43h1.1M353.79 98.4h1.1M355.87 73.12h1.1M345.7 93.81h1.1M355.52 96.86h1.1M352.37 109.89h1.1M360.96 103h1.1M357.3 97.96h1.1M361.77 91.33h1.1M363.35 108.46h1.1M360.73 74.45h1.1M360.67 86.61h1.1M358.92 102.71h1.1M362.14 41.31h1.1M360.81 93.11h1.1M362.65 97.86h1.1M358.16 62.3h1.1M362.28 107.02h1.1M363.11 94.94h1.1M356.02 107.75h1.1M360.41 86.99h1.1M359.2 92.44h1.1M363.83 108.75h1.1M358.24 109.14h1.1M359.85 113.68h1.1M361.53 111.19h1.1M355.33 96.83h1.1M355.74 101.77h1.1M363.51 113.87h1.1M352.85 87.32h1.1M360.65 105.39h1.1M358.43 77.58h1.1M353.46 108.34h1.1M353.59 79.08h1.1M356.82 112.79h1.1M362.88 110.36h1.1M357.08 103.37h1.1M360.67 108.7h1.1M363.29 117.15h1.1M360.81 112.13h1.1M359.86 101.61h1.1M357.42 106.06h1.1M358.96 109.21h1.1M355.8 86.65h1.1M352.58 109.23h1.1M358.49 97.77h1.1M363.6 94.23h1.1M360.29 113.13h1.1M363.46 116.59h1.1M360.89 97.49h1.1M361.16 86.72h1.1M363.59 106.82h1.1M358.88 96.53h1.1M353.91 78.4h1.1M360.69 115.32h1.1M360.2 85.81h1.1M356.59 113.52h1.1M363.67 99.1h1.1M350.41 97.22h1.1M363.48 82.44h1.1M359.78 106.78h1.1M355.85 97.96h1.1M351.79 81.8h1.1M363.83 86.19h1.1M359.82 109.11h1.1M361.48 91.72h1.1M349.83 110.58h1.1M358.62 101.25h1.1M359.35 98.14h1.1M358.33 108.3h1.1M344.76 73.44h1.1M363.51 115.63h1.1M362.34 79.94h1.1M347.12 96.72h1.1M358.28 98.49h1.1M363.78 99.12h1.1M356.58 113.2h1.1M363.57 102.06h1.1M352.99 102.62h1.1M355.86 99.48h1.1M358.45 93.44h1.1M359.05 55.85h1.1M362.49 81.72h1.1M356.57 90.53h1.1M353.65 109.76h1.1M350.27 105.72h1.1M359.27 89.49h1.1M357.86 97.75h1.1M356.03 87.13h1.1M348.35 108.92h1.1M358.15 86.47h1.1M348.51 101.28h1.1M351.74 102.97h1.1M351.24 99.95h1.1M352.83 93.24h1.1M363.89 86.9h1.1M355.39 86.21h1.1M360.96 106.44h1.1M357.58 106.11h1.1M363.05 115.63h1.1M358.59 39.33h1.1M360.68 62.97h1.1M355.38 44.73h1.1M359.97 113.88h1.1M350.36 88.01h1.1M359.83 89.61h1.1M356.29 78.51h1.1M341.41 59.39h1.1M355.83 70.12h1.1M357.34 98.58h1.1M360.58 105.85h1.1M355.52 112.12h1.1M362.97 115.76h1.1M361.1 79.07h1.1M355.81 38h1.1M363.06 116.85h1.1M361.35 58.33h1.1M350.48 99.53h1.1M359.22 85.81h1.1M351.45 103.14h1.1M356.34 105.8h1.1M361.26 66.2h1.1M355.82 107.11h1.1M359.75 111.36h1.1M363.33 61.87h1.1M362.48 64.13h1.1M362.69 91.13h1.1M358.17 109.18h1.1M350 100.31h1.1M362.42 57.35h1.1M360.66 106.8h1.1M360.91 110.6h1.1M362.78 113.69h1.1M358.23 82.42h1.1M360.87 115.49h1.1M363.36 101.53h1.1M355.19 89.75h1.1M357.61 68.49h1.1M358.4 84.14h1.1M361.31 101.28h1.1M359.48 74.11h1.1M361.61 105.12h1.1M352.62 109.21h1.1M349.47 109.07h1.1M348.46 70.94h1.1M353.08 111.66h1.1M361.36 78.35h1.1M360.35 75.73h1.1M355.84 109.48h1.1M358.75 83.69h1.1M358.27 105.74h1.1M362.17 100.46h1.1M356.38 100.76h1.1M352.46 105.72h1.1M358.22 104.67h1.1M354.54 111.14h1.1M359.27 105.98h1.1M357.15 104.64h1.1M358.3 112.1h1.1M355.23 112.03h1.1M360.73 99.79h1.1M358 114.47h1.1M353.6 104.67h1.1M360.49 111.48h1.1M362.21 106.82h1.1M341.56 43.95h1.1M361.26 96.28h1.1M362.29 101.45h1.1M355.98 94.9h1.1M361.63 98.74h1.1M361.77 103.47h1.1M361.02 91.2h1.1M361.66 116.45h1.1M360.49 100.24h1.1M358.25 114.48h1.1M358.47 107.62h1.1M363.22 93.7h1.1M355.61 107.07h1.1M360.72 99.47h1.1M352.22 108.93h1.1M349.8 91.29h1.1M360.6 98.87h1.1M360.41 109.17h1.1M357.51 104.73h1.1M358.37 58.2h1.1M335.06 90.98h1.1M363.31 79.05h1.1M363.48 114.22h1.1M354.07 94.03h1.1M358.97 72.86h1.1M360.01 101.77h1.1M361.49 72.46h1.1M358.16 97h1.1M359.18 105.73h1.1M363.51 104.31h1.1M359.43 99.82h1.1M356.27 107.9h1.1M363.55 73.1h1.1M358.52 62.07h1.1M357.11 113.56h1.1M358.1 105.35h1.1M355.93 90.9h1.1M351.48 95.53h1.1M361.07 80.14h1.1M360.95 109.62h1.1M357.59 110.87h1.1M360.1 107.74h1.1M359.11 87.33h1.1M363.85 98.32h1.1M354.21 95.01h1.1M361.47 40.57h1.1M362.3 78.48h1.1M353.91 90.03h1.1M356.43 105.2h1.1M362.73 115.17h1.1M356.61 78.55h1.1M355.73 46.5h1.1M356.66 112.83h1.1M357.55 72.3h1.1M342.84 95.18h1.1M352.17 91.56h1.1M345.74 76.27h1.1M349.84 54.11h1.1M358.95 103.68h1.1M363.08 114.24h1.1M360.89 112.21h1.1M356.5 108.47h1.1M356.64 107.94h1.1M350.08 106.5h1.1M361.98 104.34h1.1M358.24 95.81h1.1M356.6 114.07h1.1M359.24 75.48h1.1M355.1 100.94h1.1M360.35 96.78h1.1M359.78 102.35h1.1M361.24 86.26h1.1M354.4 92.89h1.1M362.3 115.43h1.1M349.29 109.77h1.1M358.11 89.26h1.1M363.91 99.96h1.1M358.42 97.94h1.1M360.55 98.12h1.1M358.04 91.63h1.1M362.6 105.91h1.1M362.59 101.11h1.1M362.44 90.75h1.1M362.92 83.2h1.1M358.08 109h1.1M360.66 78.91h1.1M327.17 74.67h1.1M356.97 94.51h1.1M358.41 111.2h1.1M363.17 106.25h1.1M350.93 101.28h1.1M357.93 96.93h1.1M359.21 97.86h1.1M357.59 64.7h1.1M353.51 91.63h1.1M359.43 81.8h1.1M357.69 96.06h1.1M360.76 107.88h1.1M360.61 103.27h1.1M358.87 88.7h1.1M356.08 81.9h1.1M363.64 114.78h1.1M359.39 90.67h1.1M358.52 98.91h1.1M353.86 87.41h1.1M350.61 95.47h1.1M345.05 102.56h1.1M363.72 106.07h1.1M363.96 93.84h1.1M363.34 116.31h1.1M355.47 109.45h1.1M358.3 86.31h1.1M350.94 35.78h1.1M358.54 91.26h1.1M353.35 87.52h1.1M363.43 54.09h1.1M361.67 54.84h1.1M357.66 101.56h1.1M359.53 76.3h1.1M362.85 91.25h1.1M358.25 106.83h1.1M362.37 82.04h1.1M360.16 90.28h1.1M354.31 95.66h1.1M363.53 108.78h1.1M345.5 106.2h1.1M361.85 64.62h1.1M359.41 88.71h1.1M361.38 100.12h1.1M360.53 114.09h1.1M359.34 85.96h1.1M354.83 101.83h1.1M361.32 105.04h1.1M362.45 106.3h1.1M362.41 93.34h1.1M350.78 61.47h1.1M358.53 102.46h1.1M352.87 102.33h1.1M360.19 112.49h1.1M362.15 111.39h1.1M361.2 97.38h1.1M362 96.5h1.1M357.05 59.5h1.1M361 115.13h1.1M352.01 100.87h1.1M352.12 109.24h1.1M353.8 85.96h1.1M362.68 115.31h1.1M360.91 112.83h1.1M355.32 105.23h1.1M359.67 113.33h1.1M362.21 93.95h1.1M358.02 93.28h1.1M360.78 115.41h1.1M363.18 92.04h1.1M357.98 86.22h1.1M355.28 78.82h1.1M358.35 103.16h1.1M358.38 96.81h1.1M363.49 112.51h1.1M356.31 105.62h1.1M361.82 115.42h1.1M360.38 87.21h1.1M360.99 98h1.1M355.4 99.22h1.1M363.35 110.5h1.1M357.24 108.1h1.1M359.53 112.9h1.1M357.45 88.37h1.1M363.93 109.55h1.1M362.65 100.03h1.1M363.91 75.98h1.1M347.55 90.01h1.1M345.96 103.19h1.1M357 93.85h1.1M361.74 113.71h1.1M362.52 112.31h1.1M360.99 82.63h1.1M358.74 94.29h1.1M335.5 87.45h1.1M353.75 110.03h1.1M352.73 110.95h1.1M363.52 89.43h1.1M358.81 100.6h1.1M360.88 86.07h1.1M363.72 117.27h1.1M359.24 45.6h1.1M361.19 111.65h1.1M361.05 115.49h1.1M353.23 87.72h1.1M357.43 105.06h1.1M351.3 105.58h1.1M362.9 115.46h1.1M351.13 102.97h1.1M361.71 114.55h1.1M360.68 114.84h1.1M357.95 113.36h1.1M356.84 87.35h1.1M359.58 101.72h1.1" stroke="#22A2AE" stroke-width="1.1" fill="none"/>
<path d="M384 107.32h1.1M383.16 101.72h1.1M383.03 93.06h1.1M380.54 116.25h1.1M380.59 106.16h1.1M379.59 32.15h1.1M383.01 74.48h1.1M397.43 91.86h1.1M380.12 114.41h1.1M380.52 115.92h1.1M383.27 97.6h1.1M388.89 104.02h1.1M382.18 101.82h1.1M384.26 110h1.1M385.39 70.44h1.1M382.71 102.56h1.1M397.03 87.65h1.1M380.72 93.7h1.1M385.62 72.29h1.1M383.38 113.76h1.1M383.63 89.85h1.1M384.57 107.23h1.1M386.93 79.01h1.1M385.09 98.59h1.1M380.02 112.22h1.1M381.49 33.82h1.1M380.57 82.72h1.1M383.76 105.11h1.1M388.36 104.72h1.1M380.16 46.98h1.1M384.17 107.42h1.1M385.11 107.39h1.1M385.97 60.67h1.1M380.06 104.89h1.1M381.38 105.46h1.1M386.67 86.32h1.1M381.05 112.96h1.1M387.13 87.85h1.1M380.52 108.02h1.1M379.9 115.2h1.1M385.63 80.3h1.1M387.48 86.48h1.1M384.6 114.67h1.1M386.88 106.14h1.1M379.81 48.72h1.1M382.9 110.98h1.1M383.95 97.29h1.1M383.59 71.27h1.1M382.16 112.76h1.1M380.55 111.29h1.1M379.84 110.96h1.1M381.87 110.58h1.1M382.67 93.91h1.1M390.7 99.4h1.1M383.31 112.86h1.1M384.87 109.21h1.1M381.12 105.83h1.1M382.39 113.82h1.1M380.08 86.47h1.1M379.78 98.4h1.1M383.36 108.11h1.1M385.01 82.27h1.1M381.58 106.7h1.1M384.01 101.89h1.1M380.3 116.53h1.1M382.54 102.27h1.1M380.26 110.77h1.1M383.3 72.78h1.1M404 98.63h1.1M384.22 112.81h1.1M390.53 101.31h1.1M387.99 44.87h1.1M382.57 106.4h1.1M386.03 85.5h1.1M386.25 60.4h1.1M382.04 102.19h1.1M381.33 102.42h1.1M385.91 108.25h1.1M382.49 115.02h1.1M381.91 93.2h1.1M381.66 114.17h1.1M384.85 80.7h1.1M386.97 108.3h1.1M382.45 98.59h1.1M383.52 94.99h1.1M383.08 99.43h1.1M380.32 104.65h1.1M382.44 102.78h1.1M387.52 52.04h1.1M385.64 91.36h1.1M380.33 95.11h1.1M389.94 106.91h1.1M381.68 104.65h1.1M387.89 93.97h1.1M380.52 89.82h1.1M382.62 87.95h1.1M386.41 85.35h1.1M387.69 44.47h1.1M380.49 57.73h1.1M385.49 98.92h1.1M386.62 113.96h1.1M380.79 115.33h1.1M382.98 107.41h1.1M380.12 116.44h1.1M381.37 114.51h1.1M379.66 95.15h1.1M380.05 90.96h1.1M381.24 104.25h1.1M390.87 79.1h1.1M384.82 108.42h1.1M383.44 104.54h1.1M387.4 100.25h1.1M387.75 108.44h1.1M380.75 100.97h1.1M389.7 72.2h1.1M379.69 115.82h1.1M384.75 108.55h1.1M387.79 86.97h1.1M383.12 102.87h1.1M382.86 111.49h1.1M383.26 101.9h1.1M380.13 75.14h1.1M383.96 108.55h1.1M384.68 87.4h1.1M385.9 105.71h1.1M382.02 114.57h1.1M380.11 110.06h1.1M383.74 110.44h1.1M390.33 83.22h1.1M384.69 105.4h1.1M383.33 102.9h1.1M386.04 98.46h1.1M382.8 113.04h1.1M385.86 111.91h1.1M382.81 31.71h1.1M380.49 107.35h1.1M380.8 101.96h1.1M381.14 109.39h1.1M383.83 68.45h1.1M385.6 105.35h1.1M381.25 115.29h1.1M380.49 113.45h1.1M383.36 97.82h1.1M379.58 109.55h1.1M385.02 113.18h1.1M379.91 90.69h1.1M387.56 111.92h1.1M382.75 46.98h1.1M383.77 63.12h1.1M385.43 103.52h1.1M381.62 105.99h1.1M379.53 114.57h1.1M379.89 113.08h1.1M393.23 95.9h1.1M382.64 79h1.1M419.76 89.46h1.1M386.35 104.67h1.1M383.63 40.23h1.1M381.77 116.22h1.1M380.65 76.18h1.1M384.39 114.1h1.1M384.78 111.37h1.1M384.53 113.41h1.1M383.63 110.08h1.1M379.35 105.74h1.1M383.01 77.66h1.1M387.93 89.54h1.1M380.7 87.8h1.1M382.83 102.8h1.1M388.44 106.03h1.1M380.65 98.14h1.1M380.61 34.64h1.1M385.49 112.45h1.1M383.09 114.78h1.1M388.67 58.89h1.1M382.3 41.41h1.1M381.86 102.88h1.1M379.64 77.81h1.1M379.36 112.9h1.1M385.42 86h1.1M386.56 96.28h1.1M382.86 102.6h1.1M385.59 97.2h1.1M380.44 116.83h1.1M386.44 113.3h1.1M390.26 93.34h1.1M380.04 85.97h1.1M413.81 60.51h1.1M382.75 75.34h1.1M395.98 95.39h1.1M383.43 112.36h1.1M388.58 112.76h1.1M380.24 115.25h1.1M387.44 96.87h1.1M381.83 99.74h1.1M387.1 112.95h1.1M386.69 113.53h1.1M380.21 116.3h1.1M383.01 113.64h1.1M381.47 82.26h1.1M388.82 105.93h1.1M385.32 112.17h1.1M380.66 113.4h1.1M380.63 106.67h1.1M379.36 106.58h1.1M383.51 103.75h1.1M383.93 102.85h1.1M386.37 107.18h1.1M382.39 108.63h1.1M379.6 86.29h1.1M379.37 116.08h1.1M382.3 44.56h1.1M379.64 77.8h1.1M383.42 101.2h1.1M383.46 69.31h1.1M389.66 103.13h1.1M381.7 109.39h1.1M383.74 108.32h1.1M383.54 48.84h1.1M386.74 77.79h1.1M385.53 80.98h1.1M384.31 114.13h1.1M386.97 93.31h1.1M389.42 103.12h1.1M383.65 78.66h1.1M382.83 103.96h1.1M388 99.73h1.1M381.2 87.84h1.1M394.32 83.68h1.1M382.58 109.49h1.1M382.08 104.88h1.1M385.47 106.49h1.1M398.09 107.26h1.1M386.51 104.46h1.1M383.54 106.52h1.1M385.09 100.68h1.1M380.6 76.89h1.1M379.91 74.79h1.1M381.07 87.22h1.1M379.37 109.18h1.1M381.94 100.13h1.1M387.13 92.23h1.1M383.45 105.8h1.1M385.18 81.8h1.1M387.46 98.32h1.1M383.24 60.87h1.1M380.66 115.97h1.1M384.81 92.49h1.1M379.63 111.58h1.1M388.38 97.91h1.1M384.88 101.89h1.1M381.25 71.91h1.1M385.88 57.61h1.1M379.6 71.14h1.1M380.62 114.84h1.1M380.77 110.67h1.1M388.83 47.77h1.1M384.06 104.5h1.1M391.42 109.68h1.1M379.56 114.77h1.1M383.3 84.19h1.1M380.94 105.88h1.1M384.72 109.67h1.1M385.23 65.43h1.1M384.41 113.89h1.1M380.56 114.69h1.1M380.16 96.16h1.1M380.87 102.59h1.1M379.98 67.87h1.1M383.08 76.99h1.1M386.55 101.66h1.1M390.92 58.76h1.1M386.84 109.07h1.1M380.51 116.36h1.1M379.74 110.48h1.1M382.59 89.66h1.1M380.38 91.94h1.1M382.55 110.25h1.1M387.26 110.07h1.1M389.18 104.39h1.1M384 111.7h1.1M387.4 104.57h1.1M389.2 99.54h1.1M385.23 109.25h1.1M384.56 108.52h1.1M388.68 60.4h1.1M380.37 70.06h1.1M392.27 107.34h1.1M380.48 84.19h1.1M384.9 75.93h1.1M384.66 98.27h1.1M381.07 114.71h1.1M387.24 103.48h1.1M382.4 100.73h1.1M383.17 115.47h1.1M382.59 101.35h1.1M386.18 112.85h1.1M379.96 86.08h1.1M402.17 106.09h1.1M382.31 98.98h1.1M398.87 106.58h1.1M380.2 63.37h1.1M381.28 115.55h1.1M383.32 104.51h1.1M385.73 81.2h1.1M380.01 112.55h1.1M382.1 97.97h1.1M407.27 93.02h1.1M390.18 92.16h1.1M382.59 95.62h1.1M383.45 57.27h1.1M392.03 73.18h1.1M381.82 94.84h1.1M384.54 106.38h1.1M382.28 115.17h1.1M380.28 91.73h1.1M386.43 96.08h1.1M380.38 113.63h1.1M379.89 84.17h1.1M384.21 113.04h1.1M380.86 95.86h1.1M389.1 101.96h1.1M380.5 91.93h1.1M381.41 68.94h1.1M401.75 105.63h1.1M380.31 112.76h1.1M385.53 92.42h1.1M384.74 100.64h1.1M382.7 44.52h1.1M388.8 64.88h1.1M382.81 38.38h1.1M409.14 101.14h1.1M383.79 90.64h1.1M387.72 51.44h1.1M417.6 72.04h1.1M385.73 113.65h1.1M381.03 60.32h1.1M397.35 100.14h1.1M391.33 106.59h1.1M385.1 93.72h1.1M391.26 107.87h1.1M380.46 115.21h1.1M383.81 67.26h1.1M381.77 90.89h1.1M387.06 88.18h1.1M383.61 109.48h1.1M384.99 77.71h1.1M381.01 97.99h1.1M382.02 115.74h1.1M383.97 114.06h1.1M380.13 89.92h1.1M379.76 101.37h1.1M380.36 100.74h1.1M381.07 106.52h1.1M381.07 97.21h1.1M382.06 56.34h1.1M381.85 113.02h1.1M381.87 113.96h1.1M382.44 83.79h1.1M379.96 97.82h1.1M380.15 107.09h1.1M385.51 91.12h1.1M382.44 63.35h1.1M382.78 106.02h1.1M382.07 101.18h1.1M380.66 93.64h1.1M382.45 71.47h1.1M382.07 90.67h1.1M382.29 104.53h1.1M386.09 71.83h1.1M382.47 100.75h1.1M382.13 77.21h1.1M388.39 93.2h1.1M381.1 91.23h1.1M383.21 99.05h1.1M383.53 95.29h1.1M382.63 102.42h1.1M384.91 61.54h1.1M384.2 106.27h1.1M381.05 84.67h1.1M386.06 103.39h1.1M381.79 94.86h1.1M381.77 110.16h1.1M379.7 50.95h1.1M389.27 68.05h1.1M383.29 111.32h1.1M381.09 116.22h1.1M388.48 112.31h1.1M385.99 100.87h1.1M384.18 114.01h1.1M388.18 106.81h1.1M382.71 99.5h1.1M385.57 101.92h1.1M381.18 91.49h1.1M386.7 113.58h1.1M385.54 94.44h1.1M387.8 65.29h1.1M382.7 84.41h1.1M388.15 105.02h1.1M386.08 32.57h1.1M380.46 108.6h1.1M383.45 103.21h1.1M385.43 111.2h1.1M383.73 95.12h1.1M379.84 101.55h1.1M382.36 114.84h1.1M388.76 99.6h1.1M386.75 113.56h1.1M384.98 92.44h1.1M385.11 91.49h1.1M379.6 104.98h1.1M381.76 115.76h1.1M382.51 113.92h1.1M382.42 115.46h1.1M385.36 113.55h1.1M380.72 110.39h1.1M380.49 93.52h1.1M380.97 115.15h1.1M384.03 104.15h1.1M380.09 115.7h1.1M382.37 93.09h1.1M384.98 80.39h1.1M383.79 102.89h1.1M382.5 113.72h1.1M382.79 32.72h1.1M387.56 100.1h1.1M393.35 99.93h1.1M388.32 86.31h1.1M385.89 102.72h1.1M381.61 105.77h1.1M381.26 110.68h1.1M381.93 99.75h1.1M393.71 89.89h1.1M381.97 97.83h1.1M385.51 99.95h1.1M381.71 70.54h1.1M395 98.24h1.1M383.63 48.44h1.1M383.25 106.75h1.1M382.39 107.37h1.1M384.33 95.22h1.1M380.85 116.22h1.1M382.84 104.1h1.1M385.04 96.12h1.1M379.64 107.46h1.1M392.41 108.08h1.1M384.15 112.31h1.1M381.48 104.09h1.1M384.89 106.32h1.1M382.68 82.53h1.1M383.15 69.07h1.1M380.7 107.47h1.1M385.88 79.76h1.1M387.7 41.98h1.1M389.78 57.83h1.1M384.23 85.03h1.1M383.51 96.27h1.1M380.7 113.88h1.1M397.64 95.47h1.1M385.53 95.55h1.1M383.13 84.87h1.1M390.13 108.81h1.1M385.43 88.11h1.1M380.67 105.49h1.1M381.43 91.63h1.1M386.43 73.46h1.1M380.15 50.11h1.1M386.97 78.18h1.1M382.06 94.27h1.1M380.53 60.81h1.1M382.93 113.07h1.1M384.48 105.56h1.1M380.71 87.64h1.1M391.39 99.39h1.1M385.59 110.24h1.1M380.55 93.52h1.1M407.94 65.09h1.1M382.5 111.25h1.1M387.87 98.55h1.1M382.87 55.44h1.1M381.42 87.91h1.1M381.73 109.86h1.1M385.13 108.04h1.1M386.23 59.03h1.1M380 91.1h1.1M380.11 95.13h1.1M385.45 74.38h1.1M380.46 113.49h1.1M391.09 60.36h1.1M387.1 94.77h1.1M379.75 89.73h1.1M384.56 97.36h1.1M379.75 116.28h1.1M384.65 56.36h1.1M380.24 105.06h1.1M384.15 78.16h1.1M381.87 111.72h1.1M384.21 114.61h1.1M382.65 48.24h1.1M384.68 107.94h1.1M383.36 97.54h1.1M380.03 104.43h1.1M379.94 106.16h1.1M383.04 62.24h1.1M383.74 112.26h1.1M380.78 89.56h1.1M381.33 113.04h1.1M386.2 106.99h1.1M385.78 102.78h1.1M389.16 99.59h1.1M380.08 101.17h1.1M382.2 114.74h1.1M382.06 106.42h1.1M383.9 108.5h1.1M383.42 108.2h1.1M380.57 111.54h1.1M381.41 109.75h1.1M381.44 71.67h1.1M381.31 75.94h1.1M382.82 73.17h1.1M379.44 99.12h1.1M379.33 51.69h1.1M380.23 94.74h1.1M384.44 103h1.1M387.66 62.49h1.1M390.68 51.06h1.1M384.27 100.35h1.1M388.27 100.59h1.1M384.29 107.98h1.1M380.89 105.79h1.1M382.23 115.31h1.1M392.45 81.74h1.1M400.58 101.6h1.1M389.62 89.04h1.1M381.62 69.66h1.1M389.34 107.69h1.1M383.75 113.55h1.1M383.37 113.66h1.1M381.15 59.24h1.1M380.91 105.68h1.1M385.43 98.9h1.1M386.95 95.37h1.1M381.71 96.18h1.1M383.04 103.36h1.1M384.73 103.71h1.1M381.35 66.28h1.1M380.77 104.84h1.1M380.14 97.06h1.1M383.21 113.86h1.1M383 97.6h1.1M379.83 110.39h1.1M380.95 110.11h1.1M381.05 106.98h1.1M386.14 89.76h1.1M385.47 40.69h1.1M384.93 66.14h1.1M388.49 104.75h1.1M388.85 84.01h1.1M386.39 102.79h1.1M383.31 55.76h1.1M386.55 90.21h1.1M380.96 116.13h1.1M380.06 107.16h1.1M384.05 104.91h1.1M381.05 105.83h1.1M381.79 116.15h1.1M382.91 108.45h1.1M382.71 100.52h1.1M387.2 87.78h1.1M383.55 102.34h1.1M384.37 68.92h1.1M387.21 84.97h1.1M382.14 55.63h1.1M384.58 104.83h1.1M381.89 114.3h1.1M383.22 92.6h1.1M386.29 70.09h1.1M385.49 108.64h1.1M383.6 86.79h1.1M385.99 93.15h1.1M379.37 112.09h1.1M382.18 114.76h1.1M387.49 56.61h1.1M396.76 95.03h1.1M384.71 108.52h1.1M381.41 115.63h1.1M384.76 77.79h1.1M382.8 109.74h1.1M384.34 78.68h1.1M386.04 97.1h1.1M382.13 104.8h1.1M385.21 99.02h1.1M383.25 107h1.1M381.31 115.88h1.1M380.63 95.22h1.1M390.56 107.14h1.1M389.98 103.33h1.1M380.03 112.19h1.1M379.81 62.08h1.1M394.43 104.52h1.1" stroke="#E8592F" stroke-width="1.1" fill="none"/>
<path d="M365 73L366.5 70L368.5 69L369.5 70L370.3 80L371.3 90L372.2 97.7L372.2 122.3L369 121.8L366.5 119.5L365.2 116L365 110Z" fill="#9A9A9A"/>
<path d="M372.2 97.7L373.2 90L374.1 80L375 69L376.5 66.5L378.5 66L380.2 68.5L380.2 112L379.6 117L377.8 120.3L375.5 121.8L372.2 122.3Z" fill="#9A9A9A"/>
<path d="M365.19 117.64h1.2M363.92 75.26h1.2M374.39 67.39h1.2M370.88 89.84h1.2M369.68 77.91h1.2M364.44 115.86h1.2M367.59 63.91h1.2M370.56 84.58h1.2M373.31 81.54h1.2M364.02 97.21h1.2M374.16 70.09h1.2M364.12 101.94h1.2M364.16 105.25h1.2M363.93 80.99h1.2M370.45 82.32h1.2M364.24 70.27h1.2M364.25 98.16h1.2M365.37 118.56h1.2M364.81 66.39h1.2M370.56 79.62h1.2M365.4 118.72h1.2M364.67 116.87h1.2M364.45 115.47h1.2M366 120.38h1.2M373.09 72.48h1.2M364.77 117.82h1.2M373.04 75h1.2M366.77 120.91h1.2M373.4 72.42h1.2M364.73 64.68h1.2M366.85 120.57h1.2M364.05 97.34h1.2M371.05 88.64h1.2M363.96 107.73h1.2M367.41 121.22h1.2M364.09 115.33h1.2M366.44 120.32h1.2M373.54 77.73h1.2M364.07 106.71h1.2M366.97 62.35h1.2M372.89 84.32h1.2M377.84 55.19h1.2M364 106.42h1.2M366.83 121.09h1.2M364.34 111.18h1.2M365.25 69.64h1.2M368.49 64.79h1.2M366.68 121.28h1.2M372.91 83.04h1.2M364.18 112.54h1.2M364.09 90.88h1.2M365.16 118.04h1.2M372.42 86.55h1.2M364.17 105.04h1.2M364.45 113.74h1.2M376.2 121.17h1.2M366.08 59.35h1.2M363.94 112.83h1.2M365.76 69.42h1.2M363.93 114.82h1.2M364.28 82.54h1.2M371.63 97.38h1.2M364.32 113.58h1.2M376.79 120.94h1.2M364.82 117.19h1.2M372.59 79.4h1.2M364.42 114.75h1.2M364.17 85.47h1.2M364.3 114.16h1.2M376.42 60.75h1.2M367.11 120.74h1.2M363.98 115.09h1.2M378.41 66.67h1.2M364.04 115.29h1.2M363.93 91.62h1.2M364.49 63.03h1.2M366.85 120.84h1.2M364.68 117.02h1.2M364.14 113h1.2M364.65 117.58h1.2M363.93 81.64h1.2M365.95 119.82h1.2M364.21 91.47h1.2M367.94 67.99h1.2M373.96 65.79h1.2M375.29 59.29h1.2M374.66 66.08h1.2M368.27 58.91h1.2M364 113.88h1.2M365.36 118.98h1.2M365.03 117.52h1.2M367.3 68.57h1.2M371.05 90.33h1.2M367.94 67.22h1.2M369.13 60.49h1.2M364.85 117.72h1.2M363.97 74.29h1.2M376.05 56.15h1.2M371.49 95.66h1.2M366.96 62.74h1.2M372.88 75.89h1.2M370.89 90.68h1.2M364.38 115.95h1.2M364.17 80.69h1.2M378.65 55.32h1.2M375.21 121.62h1.2M367.88 121.61h1.2M364.22 75.04h1.2M372.22 88.64h1.2M372.12 87.85h1.2M373.27 81.15h1.2M364.18 86.43h1.2M370.48 87.28h1.2M365.05 118.37h1.2M375.39 58.8h1.2M365.19 117.66h1.2M363.99 90.41h1.2M374.1 71.28h1.2M376.95 120.52h1.2M364.36 115.21h1.2M369.38 72.86h1.2M363.99 81h1.2M365.08 117.95h1.2M376.66 56.5h1.2M364.22 109.96h1.2M364.38 115.11h1.2M364.04 104.69h1.2M364.18 114.03h1.2M375.93 121.34h1.2M374.05 65.14h1.2M364.67 70.5h1.2M363.95 88.84h1.2M378.79 63.86h1.2M374.81 63.25h1.2M365.65 119.22h1.2M364.22 101.54h1.2M365.52 119.32h1.2M379.22 67.44h1.2M363.99 115.4h1.2M364.28 115h1.2M372.69 87.54h1.2M364.18 115.45h1.2M365.25 117.94h1.2M364.42 60.54h1.2M364.13 103.06h1.2M364.14 93.22h1.2M366.25 58.77h1.2M364.21 104.69h1.2M364.22 114.12h1.2M377.95 57.29h1.2M371.33 95.36h1.2M363.99 92.49h1.2M364.25 103.57h1.2M364.01 98.28h1.2M364.18 80.95h1.2M364.26 107.6h1.2M364.52 117.22h1.2M379.19 115.45h1.2M373.4 66.3h1.2M364.13 115.53h1.2M372.16 92.76h1.2M364.09 91.47h1.2M364.21 93.49h1.2M364 103.43h1.2M370.31 83.94h1.2M364.36 97.14h1.2M363.97 69.59h1.2M364.06 102.02h1.2M365.18 117.84h1.2M364.03 104.63h1.2M366.83 120.96h1.2M364.31 68.24h1.2M377.99 65.64h1.2M364.48 112.98h1.2M367.54 65.69h1.2M366.13 67.03h1.2M365.62 65.02h1.2M364.29 89.59h1.2M366 120.35h1.2M364.27 97.95h1.2M370.42 86.22h1.2M364.62 116.5h1.2M364.01 107.2h1.2M365.64 118.96h1.2M369.56 76.44h1.2M376.94 56.4h1.2M366.49 120.6h1.2M363.95 111.78h1.2M364.26 82.92h1.2M365.25 118.61h1.2M364.18 112.12h1.2M369.67 62.62h1.2M370.77 88.75h1.2M364.09 115.25h1.2M364.27 88.05h1.2M378.49 65.62h1.2M364.36 64.73h1.2M364.58 116.91h1.2M378.83 56.91h1.2M375.69 59.74h1.2M364.4 65.14h1.2M369.36 60.58h1.2M364.6 58.64h1.2M364.37 114.07h1.2M364.32 77.99h1.2M364.13 106.74h1.2" stroke="#9A9A9A" stroke-width="1.2" fill="none"/>
<text x="377" y="107.3" fill="#333" font-size="4.2">APOA4</text>
<line x1="197.1" y1="16" x2="197.1" y2="128.9" stroke="#333" stroke-width="1.5" />
<line x1="196.35" y1="128.2" x2="266.4" y2="128.2" stroke="#333" stroke-width="1.5" />
<line x1="194.4" y1="106.2" x2="197.1" y2="106.2" stroke="#333" stroke-width="1" />
<text x="191.8" y="109.2" text-anchor="end" fill="#1a1a1a" font-size="8.4">5</text>
<line x1="194.4" y1="69.45" x2="197.1" y2="69.45" stroke="#333" stroke-width="1" />
<text x="191.8" y="72.45" text-anchor="end" fill="#1a1a1a" font-size="8.4">10</text>
<line x1="194.4" y1="32.7" x2="197.1" y2="32.7" stroke="#333" stroke-width="1" />
<text x="191.8" y="35.7" text-anchor="end" fill="#1a1a1a" font-size="8.4">15</text>
<line x1="215.7" y1="128.2" x2="215.7" y2="131" stroke="#333" stroke-width="1" />
<line x1="247.6" y1="128.2" x2="247.6" y2="131" stroke="#333" stroke-width="1" />
<text x="215.9" y="141.2" text-anchor="middle" font-weight="bold" font-size="8.9" textLength="31.6" lengthAdjust="spacingAndGlyphs">Control</text>
<text x="248" y="141.2" text-anchor="middle" font-weight="bold" font-size="8.9" textLength="25.8" lengthAdjust="spacingAndGlyphs">ETOH</text>
<text transform="translate(178.2,98) rotate(-90)" text-anchor="middle" fill="#111" font-size="8.6" textLength="28.6" lengthAdjust="spacingAndGlyphs" font-style="italic">APOA4</text>
<text transform="translate(178.2,57.8) rotate(-90)" text-anchor="middle" fill="#111" font-size="8.6" textLength="39.9" lengthAdjust="spacingAndGlyphs">Expression</text>
<path d="M215.7 28.6V25.3H247.6V28.6" fill="none" stroke="#4a4a4a" stroke-width="1.05"/>
<text x="233" y="23.2" font-size="6.5" text-anchor="middle" fill="#222">5.3×10<tspan font-size="4.8" dy="-2.8">-6</tspan></text>
<line x1="247.6" y1="30.5" x2="247.6" y2="115" stroke="#555" stroke-width="0.5" />
<path d="M247.6 33.7 C247.73 34.08 248.1 34.95 248.4 36 C248.7 37.05 248.93 38.62 249.4 40 C249.87 41.38 250.53 42.8 251.2 44.3 C251.87 45.8 252.6 47.4 253.4 49 C254.2 50.6 255.1 52.32 256 53.9 C256.9 55.48 257.93 56.9 258.8 58.5 C259.67 60.1 260.65 61.92 261.2 63.5 C261.75 65.08 262 66.58 262.1 68 C262.2 69.42 262.35 70.5 261.8 72 C261.25 73.5 259.8 75.58 258.8 77 C257.8 78.42 256.57 79.42 255.8 80.5 C255.03 81.58 254.38 82.5 254.2 83.5 C254.02 84.5 254.6 85.5 254.7 86.5 C254.8 87.5 255.02 88.18 254.8 89.5 C254.58 90.82 253.87 92.98 253.4 94.4 C252.93 95.82 252.48 96.73 252 98 C251.52 99.27 250.98 100.67 250.5 102 C250.02 103.33 249.58 104.7 249.1 106 C248.62 107.3 247.85 109.17 247.6 109.8 C247.35 109.17 246.58 107.3 246.1 106 C245.62 104.7 245.18 103.33 244.7 102 C244.22 100.67 243.68 99.27 243.2 98 C242.72 96.73 242.27 95.82 241.8 94.4 C241.33 92.98 240.62 90.82 240.4 89.5 C240.18 88.18 240.4 87.5 240.5 86.5 C240.6 85.5 241.18 84.5 241 83.5 C240.82 82.5 240.17 81.58 239.4 80.5 C238.63 79.42 237.4 78.42 236.4 77 C235.4 75.58 233.95 73.5 233.4 72 C232.85 70.5 233 69.42 233.1 68 C233.2 66.58 233.45 65.08 234 63.5 C234.55 61.92 235.53 60.1 236.4 58.5 C237.27 56.9 238.3 55.48 239.2 53.9 C240.1 52.32 241 50.6 241.8 49 C242.6 47.4 243.33 45.8 244 44.3 C244.67 42.8 245.33 41.38 245.8 40 C246.27 38.62 246.5 37.05 246.8 36 C247.1 34.95 247.47 34.08 247.6 33.7Z" fill="#1FA4A8" stroke="#1d4f50" stroke-width="0.6"/>
<line x1="215.8" y1="67.5" x2="215.8" y2="123.5" stroke="#555" stroke-width="0.5" />
<path d="M215.8 70.3 C215.95 70.67 216.3 71.72 216.7 72.5 C217.1 73.28 217.52 74.17 218.2 75 C218.88 75.83 219.8 76.67 220.8 77.5 C221.8 78.33 223.2 79.12 224.2 80 C225.2 80.88 226.15 81.8 226.8 82.8 C227.45 83.8 227.75 84.72 228.1 86 C228.45 87.28 228.63 89 228.9 90.5 C229.17 92 229.52 93.58 229.7 95 C229.88 96.42 230.08 97.75 230 99 C229.92 100.25 229.63 101.33 229.2 102.5 C228.77 103.67 228.2 104.92 227.4 106 C226.6 107.08 225.4 108.05 224.4 109 C223.4 109.95 222.37 110.78 221.4 111.7 C220.43 112.62 219.53 113.38 218.6 114.5 C217.67 115.62 216.27 117.75 215.8 118.4 C215.33 117.75 213.93 115.62 213 114.5 C212.07 113.38 211.17 112.62 210.2 111.7 C209.23 110.78 208.2 109.95 207.2 109 C206.2 108.05 205 107.08 204.2 106 C203.4 104.92 202.83 103.67 202.4 102.5 C201.97 101.33 201.68 100.25 201.6 99 C201.52 97.75 201.72 96.42 201.9 95 C202.08 93.58 202.43 92 202.7 90.5 C202.97 89 203.15 87.28 203.5 86 C203.85 84.72 204.15 83.8 204.8 82.8 C205.45 81.8 206.4 80.88 207.4 80 C208.4 79.12 209.8 78.33 210.8 77.5 C211.8 76.67 212.72 75.83 213.4 75 C214.08 74.17 214.5 73.28 214.9 72.5 C215.3 71.72 215.65 70.67 215.8 70.3Z" fill="#E2695D" stroke="#6a3a34" stroke-width="0.6"/>
<line x1="247.6" y1="47" x2="247.6" y2="104" stroke="#333" stroke-width="0.55" />
<rect x="245.3" y="64.5" width="4.6" height="14.5" fill="#fff" stroke="#555" stroke-width="0.5" />
<line x1="245.3" y1="70.3" x2="249.9" y2="70.3" stroke="#555" stroke-width="0.6" />
<line x1="215.8" y1="83.8" x2="215.8" y2="107.9" stroke="#333" stroke-width="0.55" />
<rect x="213.5" y="86.7" width="4.6" height="14.4" fill="#fff" stroke="#555" stroke-width="0.5" />
<line x1="213.5" y1="96.3" x2="218.1" y2="96.3" stroke="#555" stroke-width="0.6" />
<line x1="478.5" y1="14.5" x2="478.5" y2="127.75" stroke="#333" stroke-width="1.5" />
<line x1="477.75" y1="127" x2="547" y2="127" stroke="#333" stroke-width="1.5" />
<line x1="475.8" y1="125.5" x2="478.5" y2="125.5" stroke="#333" stroke-width="1" />
<text x="473.4" y="127.8" text-anchor="end" fill="#1a1a1a" font-size="8.2">4</text>
<line x1="475.8" y1="102.6" x2="478.5" y2="102.6" stroke="#333" stroke-width="1" />
<text x="473.4" y="104.9" text-anchor="end" fill="#1a1a1a" font-size="8.2">6</text>
<line x1="475.8" y1="79.7" x2="478.5" y2="79.7" stroke="#333" stroke-width="1" />
<text x="473.4" y="82" text-anchor="end" fill="#1a1a1a" font-size="8.2">8</text>
<line x1="475.8" y1="56.8" x2="478.5" y2="56.8" stroke="#333" stroke-width="1" />
<text x="473.4" y="59.1" text-anchor="end" fill="#1a1a1a" font-size="8.2">10</text>
<line x1="475.8" y1="33.9" x2="478.5" y2="33.9" stroke="#333" stroke-width="1" />
<text x="473.4" y="36.2" text-anchor="end" fill="#1a1a1a" font-size="8.2">12</text>
<line x1="497.3" y1="127" x2="497.3" y2="129.8" stroke="#333" stroke-width="1" />
<line x1="529" y1="127" x2="529" y2="129.8" stroke="#333" stroke-width="1" />
<text x="497" y="141.2" text-anchor="middle" font-weight="bold" font-size="8.9" textLength="31.7" lengthAdjust="spacingAndGlyphs">Control</text>
<text x="528.6" y="141.2" text-anchor="middle" font-weight="bold" font-size="8.9" textLength="26.3" lengthAdjust="spacingAndGlyphs">ETOH</text>
<text transform="translate(461,95.7) rotate(-90)" text-anchor="middle" fill="#111" font-size="8.6" textLength="28.6" lengthAdjust="spacingAndGlyphs" font-style="italic">APOA4</text>
<text transform="translate(461,56) rotate(-90)" text-anchor="middle" fill="#111" font-size="8.6" textLength="40.2" lengthAdjust="spacingAndGlyphs">Expression</text>
<path d="M497.3 28.6V25.6H529V28.6" fill="none" stroke="#4a4a4a" stroke-width="1.05"/>
<text x="513.3" y="22.9" text-anchor="middle" fill="#222" font-size="6.4" textLength="22.7" lengthAdjust="spacingAndGlyphs">0.00077</text>
<line x1="529.1" y1="30.5" x2="529.1" y2="123" stroke="#555" stroke-width="0.5" />
<path d="M529.1 32.7 C529.3 33.35 529.88 34.67 530.3 36.6 C530.72 38.53 531 41.42 531.6 44.3 C532.2 47.18 533.03 50.7 533.9 53.9 C534.77 57.1 535.83 60.62 536.8 63.5 C537.77 66.38 538.87 69.12 539.7 71.2 C540.53 73.28 541.25 74.62 541.8 76 C542.35 77.38 542.72 78.45 543 79.5 C543.28 80.55 543.48 81.38 543.5 82.3 C543.52 83.22 543.4 84.13 543.1 85 C542.8 85.87 542.4 86.58 541.7 87.5 C541 88.42 539.73 89.5 538.9 90.5 C538.07 91.5 537.33 92.5 536.7 93.5 C536.07 94.5 535.82 95.08 535.1 96.5 C534.38 97.92 533.08 100.1 532.4 102 C531.72 103.9 531.38 105.97 531 107.9 C530.62 109.83 530.42 112.07 530.1 113.6 C529.78 115.13 529.27 116.52 529.1 117.1 C528.93 116.52 528.42 115.13 528.1 113.6 C527.78 112.07 527.58 109.83 527.2 107.9 C526.82 105.97 526.48 103.9 525.8 102 C525.12 100.1 523.82 97.92 523.1 96.5 C522.38 95.08 522.13 94.5 521.5 93.5 C520.87 92.5 520.13 91.5 519.3 90.5 C518.47 89.5 517.2 88.42 516.5 87.5 C515.8 86.58 515.4 85.87 515.1 85 C514.8 84.13 514.68 83.22 514.7 82.3 C514.72 81.38 514.92 80.55 515.2 79.5 C515.48 78.45 515.85 77.38 516.4 76 C516.95 74.62 517.67 73.28 518.5 71.2 C519.33 69.12 520.43 66.38 521.4 63.5 C522.37 60.62 523.43 57.1 524.3 53.9 C525.17 50.7 526 47.18 526.6 44.3 C527.2 41.42 527.48 38.53 527.9 36.6 C528.32 34.67 528.9 33.35 529.1 32.7Z" fill="#1FA4A8" stroke="#1d4f50" stroke-width="0.6"/>
<path d="M497.3 85.1 C497.78 85.68 499.27 87.53 500.2 88.6 C501.13 89.67 501.93 90.53 502.9 91.5 C503.87 92.47 504.85 93.43 506 94.4 C507.15 95.37 508.93 96.5 509.8 97.3 C510.67 98.1 511.35 98.57 511.2 99.2 C511.05 99.83 510.1 100.47 508.9 101.1 C507.7 101.73 505.23 102.27 504 103 C502.77 103.73 501.97 104.53 501.5 105.5 C501.03 106.47 501.52 107.77 501.2 108.8 C500.88 109.83 500.25 110.52 499.6 111.7 C498.95 112.88 497.68 115.2 497.3 115.9 C496.92 115.2 495.65 112.88 495 111.7 C494.35 110.52 493.72 109.83 493.4 108.8 C493.08 107.77 493.57 106.47 493.1 105.5 C492.63 104.53 491.83 103.73 490.6 103 C489.37 102.27 486.9 101.73 485.7 101.1 C484.5 100.47 483.55 99.83 483.4 99.2 C483.25 98.57 483.93 98.1 484.8 97.3 C485.67 96.5 487.45 95.37 488.6 94.4 C489.75 93.43 490.73 92.47 491.7 91.5 C492.67 90.53 493.47 89.67 494.4 88.6 C495.33 87.53 496.82 85.68 497.3 85.1Z" fill="#E2695D" stroke="#6a3a34" stroke-width="0.6"/>
<line x1="529.1" y1="50" x2="529.1" y2="110" stroke="#333" stroke-width="0.55" />
<rect x="526.9" y="69.3" width="4.4" height="15.4" fill="#fff" stroke="#555" stroke-width="0.5" />
<line x1="526.9" y1="80.9" x2="531.3" y2="80.9" stroke="#555" stroke-width="0.6" />
<line x1="497.3" y1="91.8" x2="497.3" y2="107.9" stroke="#333" stroke-width="0.55" />
<rect x="495.1" y="95.3" width="4.4" height="5.8" fill="#fff" stroke="#555" stroke-width="0.5" />
<line x1="495.1" y1="97.8" x2="499.5" y2="97.8" stroke="#555" stroke-width="0.6" />
<text x="77.5" y="172" text-anchor="middle" font-size="8.3" textLength="26.6" lengthAdjust="spacingAndGlyphs">Control</text>
<text x="184" y="172" text-anchor="middle" font-size="8.3" textLength="22.9" lengthAdjust="spacingAndGlyphs">ETOH</text>
<defs>
<linearGradient id="bg1" x1="0" x2="1" y1="0" y2="0"><stop offset="0" stop-color="#e0e0de"/><stop offset="0.5" stop-color="#e9e9e7"/><stop offset="1" stop-color="#efefef"/></linearGradient>
<pattern id="rtick" width="12" height="1.9" patternUnits="userSpaceOnUse"><rect width="12" height="0.5" fill="#3a3a3a" opacity="0.6"/></pattern>
<filter id="blur1" x="-50%" y="-50%" width="200%" height="200%"><feGaussianBlur stdDeviation="3"/></filter>
<filter id="blur04" x="-5%" y="-5%" width="110%" height="110%"><feGaussianBlur stdDeviation="0.35"/></filter>
<filter id="noise3" x="0" y="0" width="1" height="1"><feTurbulence type="fractalNoise" baseFrequency="0.8" numOctaves="2" seed="5"/><feColorMatrix type="matrix" values="0 0 0 0 0.62  0 0 0 0 0.47  0 0 0 0 0.3  0 0 0 -1.8 1.1"/></filter>
<filter id="noise" x="0" y="0" width="1" height="1"><feTurbulence type="fractalNoise" baseFrequency="0.9" numOctaves="2" seed="3"/><feColorMatrix type="matrix" values="0 0 0 0 1  0 0 0 0 1  0 0 0 0 1  0 0 0 -1.6 1.05"/></filter>
<filter id="noise2" x="0" y="0" width="1" height="1"><feTurbulence type="fractalNoise" baseFrequency="0.7" numOctaves="2" seed="9"/><feColorMatrix type="matrix" values="0 0 0 0 0.45  0 0 0 0 0.1  0 0 0 0 0.35  0 0 0 -2.2 1.25"/></filter>
</defs>
<defs>
<linearGradient id="pinkb" x1="0" x2="0" y1="0" y2="1"><stop offset="0" stop-color="#a58a90"/><stop offset="1" stop-color="#93747a"/></linearGradient>
<radialGradient id="lv1" cx="0.4" cy="0.35" r="0.7"><stop offset="0" stop-color="#7e4632"/><stop offset="0.7" stop-color="#6a3626"/><stop offset="1" stop-color="#4e2416"/></radialGradient>
<radialGradient id="lv2" cx="0.45" cy="0.45" r="0.65"><stop offset="0" stop-color="#74402e"/><stop offset="0.7" stop-color="#623020"/><stop offset="1" stop-color="#4a1e12"/></radialGradient>
</defs>
<rect x="27.2" y="175.2" width="100.5" height="75.4" fill="url(#bg1)" />
<rect x="40" y="183" width="21.2" height="31.5" fill="#a09d97"/>
<rect x="40" y="214.5" width="21.2" height="35.5" fill="url(#pinkb)"/>
<rect x="40" y="213.6" width="21.2" height="1.8" fill="#cfccc8"/>
<rect x="40" y="183" width="5.2" height="67" fill="#7a7672" opacity="0.35"/>
<rect x="33.7" y="183" width="6.3" height="67" fill="#676565"/>
<rect x="61.2" y="183" width="10.2" height="31.5" fill="#8d8b88"/>
<rect x="61.2" y="214.5" width="10.2" height="35.5" fill="#85737a"/>
<rect x="61.2" y="183" width="10.2" height="67" fill="url(#rtick)"/>
<rect x="61.2" y="213.7" width="10.2" height="1.6" fill="#b8b6b4" opacity="0.8"/>
<line x1="40" y1="183" x2="40" y2="250" stroke="#3a3a3a" stroke-width="0.6" />
<line x1="61.2" y1="183" x2="61.2" y2="250" stroke="#4a4a4a" stroke-width="0.5" />
<path d="M40 184h2.8M61.2 184h-2.8M40 185.9h1.6M61.2 185.9h-1.6M40 187.8h1.6M61.2 187.8h-1.6M40 189.7h1.6M61.2 189.7h-1.6M40 191.6h1.6M61.2 191.6h-1.6M40 193.5h2.8M61.2 193.5h-2.8M40 195.4h1.6M61.2 195.4h-1.6M40 197.3h1.6M61.2 197.3h-1.6M40 199.2h1.6M61.2 199.2h-1.6M40 201.1h1.6M61.2 201.1h-1.6M40 203h2.8M61.2 203h-2.8M40 204.9h1.6M61.2 204.9h-1.6M40 206.8h1.6M61.2 206.8h-1.6M40 208.7h1.6M61.2 208.7h-1.6M40 210.6h1.6M61.2 210.6h-1.6M40 212.5h2.8M61.2 212.5h-2.8M40 214.4h1.6M61.2 214.4h-1.6M40 216.3h1.6M61.2 216.3h-1.6M40 218.2h1.6M61.2 218.2h-1.6M40 220.1h1.6M61.2 220.1h-1.6M40 222h2.8M61.2 222h-2.8M40 223.9h1.6M61.2 223.9h-1.6M40 225.8h1.6M61.2 225.8h-1.6M40 227.7h1.6M61.2 227.7h-1.6M40 229.6h1.6M61.2 229.6h-1.6M40 231.5h2.8M61.2 231.5h-2.8M40 233.4h1.6M61.2 233.4h-1.6M40 235.3h1.6M61.2 235.3h-1.6M40 237.2h1.6M61.2 237.2h-1.6M40 239.1h1.6M61.2 239.1h-1.6M40 241h2.8M61.2 241h-2.8M40 242.9h1.6M61.2 242.9h-1.6M40 244.8h1.6M61.2 244.8h-1.6M40 246.7h1.6M61.2 246.7h-1.6M40 248.6h1.6M61.2 248.6h-1.6" stroke="#333" stroke-width="0.4" fill="none"/>
<text transform="translate(47.2,200.8) rotate(90)" font-family="Liberation Serif, serif" font-size="12.5" text-anchor="middle" fill="#111" stroke="#111" stroke-width="0.3">1</text>
<text transform="translate(47.2,219.8) rotate(90)" font-family="Liberation Serif, serif" font-size="12.5" text-anchor="middle" fill="#111" stroke="#111" stroke-width="0.3">2</text>
<text transform="translate(47.2,237.8) rotate(90)" font-family="Liberation Serif, serif" font-size="12.5" text-anchor="middle" fill="#111" stroke="#111" stroke-width="0.3">3</text>
<text transform="translate(49.1,193.3) rotate(90)" font-family="Liberation Serif, serif" font-size="7.5" text-anchor="middle" fill="#2a2a2a">cm</text>
<path d="M101.5 189 C103 185 110 183.5 114.5 184.8 C119 186 121 190 119.5 195 C117.5 198.5 111 198.5 106.5 197.8 C103.5 195.5 101 192.5 101.5 189Z" fill="#f2f2f2" opacity="0.9"/>
<path d="M84.33 192.92C85.16 191.03 86.15 189.38 87.61 188.14C89.08 186.89 91.38 185.8 93.13 185.43C94.87 185.07 96.91 185.41 98.11 185.95C99.31 186.49 99.5 187.67 100.33 188.66C101.16 189.64 102.08 190.81 103.09 191.88C104.1 192.95 105.26 194.01 106.38 195.1C107.49 196.2 108.48 197.53 109.77 198.43C111.06 199.33 112.65 199.8 114.11 200.51C115.58 201.22 117.45 201.6 118.57 202.7C119.68 203.79 120.42 205.26 120.79 207.06C121.16 208.87 121.16 211.35 120.79 213.51C120.42 215.68 119.68 217.9 118.57 220.06C117.45 222.23 115.77 224.88 114.11 226.51C112.45 228.14 110.44 229.29 108.6 229.84C106.76 230.39 104.75 230.2 103.09 229.84C101.43 229.48 100.1 228.75 98.64 227.66C97.17 226.56 95.94 224.92 94.29 223.29C92.65 221.66 90.62 219.86 88.78 217.88C86.94 215.9 84.38 213.43 83.27 211.43C82.16 209.44 82.21 207.91 82.1 205.92C82 203.93 82.26 201.64 82.63 199.47C83 197.31 83.5 194.81 84.33 192.92Z" fill="url(#lv1)"/>
<path d="M87.4 206 C90 204 93 203.2 95.7 203.4 C99 203.3 102 203 105.1 203.4 C108.5 204 111 205.5 112.4 207 C114 209.5 114.5 211.5 114 213.3 C113.5 217 112.5 219.5 111.3 221.7 C109.5 223.8 108 225 106.1 225.8" fill="none" stroke="#4e2414" stroke-width="0.9" opacity="0.75"/>
<circle cx="94.1" cy="194.6" r="0.9" fill="#f0e6e0"/><circle cx="93.6" cy="213.3" r="1.1" fill="#efe4dc"/><circle cx="91" cy="214.9" r="0.6" fill="#e8d8d0"/><circle cx="96.2" cy="219.6" r="0.6" fill="#d8c0b0"/><ellipse cx="108.4" cy="196.5" rx="1.5" ry="1" fill="#d9944e"/>
<text x="91.6" y="243.4" font-family="Liberation Serif, serif" font-style="italic" font-size="10.5" fill="#1a1a1a" textLength="11.4" lengthAdjust="spacingAndGlyphs">c2</text>
<rect x="27.2" y="175.2" width="100.5" height="75.4" fill="none" stroke="#2e2e2e" stroke-width="1.2" />
<rect x="131.3" y="175.9" width="100.8" height="74.7" fill="url(#bg1)" />
<rect x="139.8" y="177.9" width="21.2" height="30.1" fill="#a09d97"/>
<rect x="139.8" y="208" width="21.2" height="42" fill="url(#pinkb)"/>
<rect x="139.8" y="207.1" width="21.2" height="1.8" fill="#cfccc8"/>
<rect x="139.8" y="177.9" width="5.2" height="72.1" fill="#7a7672" opacity="0.35"/>
<rect x="133.5" y="177.9" width="6.3" height="72.1" fill="#676565"/>
<rect x="161" y="177.9" width="10.2" height="30.1" fill="#8d8b88"/>
<rect x="161" y="208" width="10.2" height="42" fill="#85737a"/>
<rect x="161" y="177.9" width="10.2" height="72.1" fill="url(#rtick)"/>
<rect x="161" y="207.2" width="10.2" height="1.6" fill="#b8b6b4" opacity="0.8"/>
<line x1="139.8" y1="177.9" x2="139.8" y2="250" stroke="#3a3a3a" stroke-width="0.6" />
<line x1="161" y1="177.9" x2="161" y2="250" stroke="#4a4a4a" stroke-width="0.5" />
<path d="M139.8 178.9h2.8M161 178.9h-2.8M139.8 180.8h1.6M161 180.8h-1.6M139.8 182.7h1.6M161 182.7h-1.6M139.8 184.6h1.6M161 184.6h-1.6M139.8 186.5h1.6M161 186.5h-1.6M139.8 188.4h2.8M161 188.4h-2.8M139.8 190.3h1.6M161 190.3h-1.6M139.8 192.2h1.6M161 192.2h-1.6M139.8 194.1h1.6M161 194.1h-1.6M139.8 196h1.6M161 196h-1.6M139.8 197.9h2.8M161 197.9h-2.8M139.8 199.8h1.6M161 199.8h-1.6M139.8 201.7h1.6M161 201.7h-1.6M139.8 203.6h1.6M161 203.6h-1.6M139.8 205.5h1.6M161 205.5h-1.6M139.8 207.4h2.8M161 207.4h-2.8M139.8 209.3h1.6M161 209.3h-1.6M139.8 211.2h1.6M161 211.2h-1.6M139.8 213.1h1.6M161 213.1h-1.6M139.8 215h1.6M161 215h-1.6M139.8 216.9h2.8M161 216.9h-2.8M139.8 218.8h1.6M161 218.8h-1.6M139.8 220.7h1.6M161 220.7h-1.6M139.8 222.6h1.6M161 222.6h-1.6M139.8 224.5h1.6M161 224.5h-1.6M139.8 226.4h2.8M161 226.4h-2.8M139.8 228.3h1.6M161 228.3h-1.6M139.8 230.2h1.6M161 230.2h-1.6M139.8 232.1h1.6M161 232.1h-1.6M139.8 234h1.6M161 234h-1.6M139.8 235.9h2.8M161 235.9h-2.8M139.8 237.8h1.6M161 237.8h-1.6M139.8 239.7h1.6M161 239.7h-1.6M139.8 241.6h1.6M161 241.6h-1.6M139.8 243.5h1.6M161 243.5h-1.6M139.8 245.4h2.8M161 245.4h-2.8M139.8 247.3h1.6M161 247.3h-1.6M139.8 249.2h1.6M161 249.2h-1.6" stroke="#333" stroke-width="0.4" fill="none"/>
<text transform="translate(147,196.6) rotate(90)" font-family="Liberation Serif, serif" font-size="12.5" text-anchor="middle" fill="#111" stroke="#111" stroke-width="0.3">1</text>
<text transform="translate(147,216.2) rotate(90)" font-family="Liberation Serif, serif" font-size="12.5" text-anchor="middle" fill="#111" stroke="#111" stroke-width="0.3">2</text>
<text transform="translate(147,234.9) rotate(90)" font-family="Liberation Serif, serif" font-size="12.5" text-anchor="middle" fill="#111" stroke="#111" stroke-width="0.3">3</text>
<text transform="translate(148.9,188.5) rotate(90)" font-family="Liberation Serif, serif" font-size="7.5" text-anchor="middle" fill="#2a2a2a">cm</text>
<path d="M189.3 184.4C189.47 183.17 191.07 182.73 192.8 182.4C194.53 182.07 197.57 182.32 199.7 182.4C201.83 182.48 203.97 182.9 205.6 182.9C207.23 182.9 208.2 182.65 209.5 182.4C210.8 182.15 211.77 181.4 213.4 181.4C215.03 181.4 217.5 181.67 219.3 182.4C221.1 183.13 222.97 184.4 224.2 185.8C225.43 187.2 226.37 188.98 226.7 190.8C227.03 192.62 226.77 195.07 226.2 196.7C225.63 198.33 223.95 198.97 223.3 200.6C222.65 202.23 222.63 204.2 222.3 206.5C221.97 208.8 221.8 212.27 221.3 214.4C220.8 216.53 220.62 218.17 219.3 219.3C217.98 220.43 215.53 221.03 213.4 221.2C211.27 221.37 208.63 220.78 206.5 220.3C204.37 219.82 202.57 219.28 200.6 218.3C198.63 217.32 196.67 215.55 194.7 214.4C192.73 213.25 190.52 212.38 188.8 211.4C187.08 210.42 185.3 209.82 184.4 208.5C183.5 207.18 183.15 205.15 183.4 203.5C183.65 201.85 184.67 200.07 185.9 198.6C187.13 197.13 189.82 196.17 190.8 194.7C191.78 193.23 192.05 191.52 191.8 189.8C191.55 188.08 189.13 185.63 189.3 184.4Z" fill="url(#lv2)"/>
<ellipse cx="205.5" cy="200.5" rx="5" ry="6.5" fill="#8a5646" opacity="0.6"/><ellipse cx="219" cy="189" rx="6" ry="5" fill="#7e4636" opacity="0.55"/><ellipse cx="196" cy="190" rx="4" ry="3" fill="#7e4636" opacity="0.45"/>
<path d="M209.5 182.6 C208 187 208.5 192 211 195.5 C214 198.5 219 200 223.3 200.6" fill="none" stroke="#3a1208" stroke-width="0.8" opacity="0.7"/>
<path d="M193 194 C197 192 201 194.5 203 197" fill="none" stroke="#3a1208" stroke-width="0.8" opacity="0.6"/>
<path d="M187.4 208.5h3.2M194.7 187.8h1.2M200.6 200.6h1.2M201.6 216.3h0.8M214.4 183.9h1.5M220.3 197.6h0.8M206 204h0.8M189.5 186h1" stroke="#eadcd4" stroke-width="1" stroke-linecap="round"/>
<text x="192.6" y="242.6" font-family="Liberation Serif, serif" font-style="italic" font-size="10.5" fill="#1a1a1a" textLength="22.6" lengthAdjust="spacingAndGlyphs">EJ-3</text>
<rect x="131.3" y="175.9" width="100.8" height="74.7" fill="none" stroke="#2e2e2e" stroke-width="1.2" />
<text transform="translate(23.6,287.9) rotate(-90)" text-anchor="middle" font-size="7.7" textLength="15.8" lengthAdjust="spacingAndGlyphs">H&amp;E</text>
<defs><linearGradient id="he2" x1="0" x2="1" y1="0" y2="0.3"><stop offset="0" stop-color="#e2b8ca"/><stop offset="0.3" stop-color="#dca6c2"/><stop offset="0.6" stop-color="#d898ba"/><stop offset="1" stop-color="#d48eb4"/></linearGradient>
<filter id="hed" x="0" y="0" width="1" height="1"><feTurbulence type="fractalNoise" baseFrequency="0.55" numOctaves="2" seed="17"/><feColorMatrix type="matrix" values="0 0 0 0 0.45  0 0 0 0 0.1  0 0 0 0 0.4  0 0 0 -2.6 1.35"/></filter>
<filter id="hel" x="0" y="0" width="1" height="1"><feTurbulence type="fractalNoise" baseFrequency="0.6" numOctaves="2" seed="4"/><feColorMatrix type="matrix" values="0 0 0 0 1  0 0 0 0 0.85  0 0 0 0 0.95  0 0 0 2.4 -1.15"/></filter>
</defs>
<rect x="26.2" y="254" width="102.5" height="76.7" fill="#bd5f9e" />
<rect x="26.2" y="254" width="102.5" height="76.7" fill="#fff" filter="url(#hel)" opacity="0.3"/>
<rect x="26.2" y="254" width="102.5" height="76.7" fill="#fff" filter="url(#hed)" opacity="0.45"/>
<path d="M75.5 291 C76.5 288.8 79.5 288.8 80.3 290.8 C81 293 79.5 295 77.5 295 C75.8 294.8 75 293 75.5 291Z" fill="#eef2e6"/>
<circle cx="108.6" cy="304.2" r="1.3" fill="#eef0ea"/><circle cx="100.5" cy="297" r="0.9" fill="#e8c8dc"/><ellipse cx="32.5" cy="307.5" rx="2.5" ry="2" fill="#7a2a68" opacity="0.6"/>
<path d="M26.5 303 C28 305 29.5 306.5 31 309" fill="none" stroke="#f0e0ec" stroke-width="0.7"/>
<rect x="131.1" y="254" width="102" height="76.7" fill="url(#he2)" />
<rect x="131.1" y="254" width="102" height="76.7" fill="#fff" filter="url(#hel)" opacity="0.3"/>
<rect x="131.1" y="254" width="102" height="76.7" fill="#fff" filter="url(#hed)" opacity="0.3"/>
<path d="M145 304 L148 299.5 L153 297.3 L157.5 296 L161.6 295.4 L160.4 299.2 L155.5 302.3 L149.5 304.4Z" fill="#e0edce"/>
<path d="M171 278.6 C173 277.8 176 279.5 180 279.8 C182 280.2 181.5 282.4 179 282.6 C176 282.8 173 282.3 171.3 280.6Z" fill="#e2eed2"/>
<path d="M131.3 309.5 C133 311.5 135 313.5 137 314.2 C139 315 140 316 141.3 316.5" fill="none" stroke="#dcebc9" stroke-width="1.4"/>
<circle cx="143.7" cy="305.3" r="0.8" fill="#4a1a3a"/><circle cx="221" cy="317" r="0.6" fill="#5a2a4a"/><path d="M201 327.5l4-2" stroke="#a03a7a" stroke-width="0.8"/>
<text x="111.6" y="328.8" font-size="8.2" textLength="14.6" lengthAdjust="spacingAndGlyphs">20X</text>
<text x="217.5" y="328.9" font-size="8.2" textLength="14.7" lengthAdjust="spacingAndGlyphs">20X</text>
<text x="77.5" y="358.5" text-anchor="middle" font-size="8" textLength="26.5" lengthAdjust="spacingAndGlyphs">APOA4</text>
<text transform="translate(24.2,396.4) rotate(-90)" text-anchor="middle" font-size="8.5" textLength="27.3" lengthAdjust="spacingAndGlyphs">Control</text>
<text transform="translate(24.2,479) rotate(-90)" text-anchor="middle" font-size="8.2" textLength="22.7" lengthAdjust="spacingAndGlyphs">ETOH</text>
<rect x="26" y="361.5" width="102.1" height="72.1" fill="#d6d3ce" />
<ellipse cx="70" cy="398" rx="10" ry="7" fill="#a8743e" opacity="0.16" filter="url(#blur1)"/>
<ellipse cx="60" cy="420" rx="14" ry="9.8" fill="#a8743e" opacity="0.18" filter="url(#blur1)"/>
<ellipse cx="100" cy="415" rx="12" ry="8.4" fill="#a8743e" opacity="0.16" filter="url(#blur1)"/>
<ellipse cx="45" cy="385" rx="8" ry="5.6" fill="#a8743e" opacity="0.11" filter="url(#blur1)"/>
<ellipse cx="118" cy="425" rx="6" ry="4.2" fill="#a8743e" opacity="0.18" filter="url(#blur1)"/>
<rect x="26" y="361.5" width="102.1" height="72.1" fill="#fff" filter="url(#noise3)" opacity="0.3"/>
<path d="M27.05 363.18h0.4M36.25 363.5h0.4M38.94 362.19h0.4M42.2 361.73h0.4M44.66 363.53h0.4M47.47 363.29h0.4M51.43 361.95h0.4M54.99 362.12h0.4M58.26 363.44h0.4M61.27 362.78h0.4M62.81 363.58h0.4M67.38 363.49h0.4M69.22 362.03h0.4M71.68 362.3h0.4M74.61 363.06h0.4M78.27 363.34h0.4M81.33 362.66h0.4M97.11 361.72h0.4M106.98 362.39h0.4M109.2 363.25h0.4M112.7 363.29h0.4M114.32 363.59h0.4M121.03 363.55h0.4M124.02 362.33h0.4M27.48 364.68h0.4M32.37 364.71h0.4M35.4 365.45h0.4M36.95 365.57h0.4M40.44 365.23h0.4M44.41 364.45h0.4M47.3 364.65h0.4M50.57 365.64h0.4M51.94 365.25h0.4M56.46 364.97h0.4M61.78 365.36h0.4M64.88 364.97h0.4M71.94 365.64h0.4M73.75 364.56h0.4M77.69 366.12h0.4M80.75 365.93h0.4M83.55 365.9h0.4M104.92 365.31h0.4M107.92 365.98h0.4M110.96 365.86h0.4M113.43 366.07h0.4M119.86 365.44h0.4M123.55 366.26h0.4M126.31 365.82h0.4M30.01 368.4h0.4M33.15 368.62h0.4M36.39 367.12h0.4M38.88 368.37h0.4M42.42 368.33h0.4M45.04 367.52h0.4M47.42 367.7h0.4M50.59 367.14h0.4M54.01 368.29h0.4M56.78 368.87h0.4M60.16 367.63h0.4M62.63 368.73h0.4M65.52 368.3h0.4M69.59 367.75h0.4M73.47 368.71h0.4M76.23 368.35h0.4M77.93 368.26h0.4M82.61 369h0.4M84.45 368.85h0.4M87.02 368.2h0.4M112.19 367.9h0.4M116.22 368.05h0.4M118.25 367.31h0.4M121.24 367.65h0.4M125.05 367.09h0.4M27.87 371.62h0.4M30.87 370.29h0.4M35.4 370.34h0.4M37.42 371.04h0.4M41.01 369.99h0.4M43.18 370.82h0.4M46.22 370.81h0.4M49.4 371.24h0.4M51.8 370.26h0.4M56.61 371.53h0.4M57.85 371.31h0.4M62.03 371.17h0.4M64.89 371.58h0.4M67.76 371.46h0.4M70.62 371.41h0.4M74.75 371.14h0.4M79.46 370.71h0.4M83.22 370.41h0.4M86.45 371.38h0.4M88.79 371.39h0.4M114.56 370.05h0.4M116.6 370.07h0.4M118.91 369.97h0.4M122.02 369.87h0.4M126.41 371.51h0.4M26.66 373.07h0.4M29.83 374.31h0.4M32.01 373.83h0.4M39.11 373.68h0.4M42.15 372.94h0.4M45.13 372.7h0.4M47.89 373.91h0.4M51.63 373.75h0.4M54.59 372.62h0.4M57.49 372.91h0.4M60.31 373.08h0.4M62.46 373.89h0.4M65.75 374.34h0.4M72.88 374.08h0.4M75.85 373.14h0.4M78.32 373.66h0.4M81.47 372.71h0.4M85.05 374.05h0.4M88.5 373.47h0.4M91 373.92h0.4M93.09 372.5h0.4M96.03 374.21h0.4M119.06 372.74h0.4M120.9 372.76h0.4M123.87 373.4h0.4M31.75 376.47h0.4M35.32 375.36h0.4M37.06 376.47h0.4M39.85 375.52h0.4M43.04 375.28h0.4M47.57 375.85h0.4M49.61 375.69h0.4M53.16 375.45h0.4M56.12 377h0.4M58.69 377.07h0.4M61 376.68h0.4M68.01 375.82h0.4M70.17 376.92h0.4M74.95 375.23h0.4M76.23 375.91h0.4M79.69 375.93h0.4M85.63 376.14h0.4M89.39 375.29h0.4M95.62 376.83h0.4M97.51 376.2h0.4M122.5 375.38h0.4M125.41 375.29h0.4M26.95 378.29h0.4M30.25 377.9h0.4M32.47 378.55h0.4M35.79 378.43h0.4M39.11 379.6h0.4M42.57 378.95h0.4M48.61 379.21h0.4M51.82 378.57h0.4M53.38 378.14h0.4M57.65 378.38h0.4M60.88 378.92h0.4M62.5 378.06h0.4M67.17 379.7h0.4M68.96 378.66h0.4M72.21 377.83h0.4M76.25 379.26h0.4M78.71 378.15h0.4M81.59 379.68h0.4M87.72 378.67h0.4M91.39 379.68h0.4M94.84 379h0.4M97.58 378.64h0.4M100.96 377.87h0.4M103.01 379.57h0.4M27.61 382.15h0.4M30.45 380.83h0.4M34.86 382.29h0.4M38.07 381.14h0.4M41.25 381.73h0.4M43.33 380.51h0.4M46.8 380.86h0.4M49.31 380.54h0.4M52.49 381.44h0.4M55.57 382.45h0.4M59.67 381.87h0.4M61.95 382.09h0.4M65.11 381.85h0.4M67.54 380.64h0.4M70.74 381.65h0.4M76.67 381.92h0.4M84.02 381.86h0.4M86.75 381.71h0.4M89.36 382.28h0.4M93.32 381.58h0.4M94.43 381.27h0.4M101.75 381.26h0.4M104.95 381.59h0.4M107.37 382.26h0.4M27.26 384.01h0.4M29.91 384.98h0.4M35.32 383.23h0.4M39.13 384.38h0.4M41.43 384.36h0.4M45.48 384.63h0.4M50.84 384.87h0.4M55.1 383.63h0.4M57.98 384.13h0.4M59.74 383.49h0.4M62.7 384.4h0.4M66.97 384.64h0.4M74.81 383.38h0.4M78.06 383.92h0.4M82.06 384.66h0.4M84.56 384.26h0.4M87.04 384.37h0.4M94.79 383.32h0.4M97.39 383.76h0.4M99.96 383.88h0.4M103.89 383.94h0.4M106.1 384.57h0.4M109.3 383.76h0.4M29.29 386.94h0.4M32.24 386.04h0.4M35.05 385.87h0.4M37.2 385.89h0.4M40.44 386.62h0.4M46.51 386.8h0.4M49.23 387.77h0.4M52.74 385.96h0.4M56.33 386.73h0.4M59.63 387.15h0.4M60.95 385.9h0.4M64.75 387.6h0.4M71.54 387.64h0.4M78.11 386.29h0.4M79.72 386.8h0.4M83.56 386.1h0.4M86.19 386h0.4M90.12 387.63h0.4M95.62 386.13h0.4M99.32 387.73h0.4M100.89 386.71h0.4M105.08 386.6h0.4M111.08 386.04h0.4M114.01 386.61h0.4M30.26 388.56h0.4M32.74 389.55h0.4M36.54 388.65h0.4M38.08 389.31h0.4M41.09 389.14h0.4M45.41 390.39h0.4M52.1 390.52h0.4M53.58 390.4h0.4M57.2 390.01h0.4M60.13 390.39h0.4M63.5 390.2h0.4M66.15 389.53h0.4M68.91 389.45h0.4M71.73 389.22h0.4M76.54 389.07h0.4M79.22 390.02h0.4M82.36 389.79h0.4M85.01 389.03h0.4M88.55 389.42h0.4M90.2 388.81h0.4M94.38 389.66h0.4M96.04 390.19h0.4M100.74 388.62h0.4M102.28 389.98h0.4M108.37 388.67h0.4M111.39 388.67h0.4M115.55 390.32h0.4M117.44 389.83h0.4M27.33 392.74h0.4M32.18 392.16h0.4M36.89 391.4h0.4M39.68 392.07h0.4M43.88 391.57h0.4M46.61 392.6h0.4M49.82 393.05h0.4M52.26 392.21h0.4M56.58 392.33h0.4M58.66 392.79h0.4M61.46 391.44h0.4M64.64 393h0.4M70.26 392.76h0.4M73.28 392.49h0.4M79.94 392.5h0.4M82.75 392.04h0.4M85.47 391.35h0.4M89.15 392.96h0.4M96.01 393.02h0.4M97.68 392.06h0.4M100.58 392.35h0.4M108.52 392.16h0.4M111.21 391.45h0.4M112.89 393.2h0.4M116.65 391.77h0.4M120.77 392.08h0.4M122.9 393.06h0.4M29.91 394.19h0.4M33.78 394.84h0.4M36.79 395.06h0.4M38.57 395.4h0.4M41.99 395.43h0.4M44.37 394.31h0.4M50.47 394.24h0.4M54.14 395.15h0.4M56.63 395.31h0.4M60.51 394.41h0.4M62.5 395.35h0.4M66.98 394.58h0.4M69.78 394.89h0.4M73.39 394.47h0.4M76.35 394.17h0.4M78.48 395.86h0.4M82.01 395.42h0.4M83.75 395.8h0.4M88.51 395.23h0.4M91.53 395.26h0.4M94.36 394.92h0.4M97.18 395.5h0.4M99.99 393.91h0.4M103.59 395.58h0.4M106.17 394.87h0.4M108.56 395.86h0.4M111.68 395.57h0.4M115.02 395.2h0.4M117.85 393.93h0.4M121.51 395.39h0.4M124.27 394.52h0.4M28.07 397.79h0.4M31.26 397.96h0.4M33.95 398.27h0.4M36.59 396.62h0.4M39.74 397.51h0.4M44.18 397.55h0.4M45.67 398.18h0.4M49.92 398.26h0.4M53.16 398.29h0.4M58.23 396.72h0.4M61.08 397.33h0.4M64.37 396.6h0.4M67.58 398.05h0.4M70.36 398.5h0.4M74.45 397.03h0.4M77.03 397.41h0.4M80.09 398.13h0.4M83.95 397.96h0.4M87.02 398.43h0.4M89.16 397.91h0.4M93.14 398.02h0.4M94.81 397.25h0.4M98.84 398.13h0.4M101.59 398.27h0.4M103.76 397.8h0.4M106.91 397.17h0.4M109.97 397.44h0.4M118.98 396.89h0.4M121.99 397.8h0.4M125.88 398.2h0.4M27.64 400.49h0.4M29.19 400.13h0.4M33.55 399.74h0.4M36.58 399.42h0.4M38.44 400.61h0.4M41.24 400.74h0.4M44.74 400.99h0.4M47.77 400.63h0.4M51.24 399.44h0.4M55.08 400.55h0.4M57.33 400.22h0.4M59.65 399.83h0.4M62.54 400.62h0.4M66.03 399.46h0.4M70.36 399.86h0.4M72.24 401.17h0.4M75.28 399.69h0.4M78.57 399.47h0.4M81.36 400.65h0.4M85.49 399.39h0.4M87.37 399.8h0.4M90.85 399.97h0.4M94.59 400.42h0.4M97.26 400.51h0.4M99.85 399.54h0.4M103.81 399.89h0.4M106.31 400.46h0.4M109.04 400.74h0.4M114.39 399.44h0.4M117.87 400.59h0.4M121.26 399.6h0.4M124.79 400.3h0.4M29.01 403.2h0.4M30.73 402.91h0.4M34.67 402.18h0.4M41.41 402.74h0.4M44.57 402.22h0.4M47.08 402.88h0.4M52.53 402.47h0.4M55.65 403.19h0.4M58.4 402.03h0.4M62.19 402.45h0.4M68.53 402.57h0.4M73.17 402.96h0.4M77.18 402.05h0.4M81.15 403.54h0.4M83.14 402.02h0.4M85.66 403.93h0.4M88.82 402.09h0.4M96.1 403.53h0.4M97.81 402.5h0.4M100.88 403.4h0.4M103.6 402.57h0.4M108.33 403.42h0.4M111.5 403.07h0.4M113.87 402.52h0.4M116.29 402.88h0.4M118.99 402.45h0.4M123.79 402.93h0.4M126.41 403.14h0.4M30.12 406.35h0.4M32.49 404.94h0.4M36.12 405.1h0.4M38.6 405.1h0.4M42.38 405.81h0.4M47.39 405.83h0.4M51.66 405.62h0.4M54.51 406.03h0.4M56.67 405.58h0.4M59.54 406.13h0.4M63.35 405.69h0.4M66.05 405.76h0.4M69.81 405.27h0.4M72.49 405.85h0.4M74.87 405.54h0.4M80.74 405.64h0.4M83.81 405.18h0.4M87.6 406.46h0.4M90.55 406.03h0.4M92.94 405.1h0.4M97.74 405.53h0.4M99.96 405.61h0.4M103.38 406.09h0.4M109.38 404.73h0.4M112.52 405.31h0.4M114.99 405.88h0.4M118.64 406.49h0.4M121.77 406.05h0.4M124.63 405.88h0.4M28.83 407.78h0.4M31.42 408.77h0.4M34.36 409.21h0.4M37.61 409.31h0.4M40.95 409.24h0.4M44.13 408.63h0.4M47.2 409.05h0.4M49.65 408.56h0.4M53.64 408.93h0.4M59.72 408.84h0.4M62.41 408.39h0.4M65.2 409.06h0.4M68.92 408.32h0.4M71.34 408.45h0.4M74.99 407.97h0.4M79.73 407.93h0.4M82.71 408.66h0.4M87.07 408.28h0.4M88.84 408.06h0.4M91.61 407.63h0.4M95.96 409.21h0.4M97.97 407.91h0.4M101.48 407.56h0.4M104.11 407.62h0.4M106.84 408.21h0.4M110.76 409.08h0.4M114.62 407.42h0.4M116.62 407.33h0.4M120.8 408.76h0.4M123.5 407.34h0.4M29.96 410.62h0.4M32.75 411.05h0.4M35.57 411.91h0.4M38.62 411.57h0.4M41.9 410.22h0.4M46.09 411.25h0.4M48.5 411.36h0.4M50.93 410.31h0.4M53.49 410.82h0.4M57.65 410.69h0.4M59.98 411h0.4M64.1 410.98h0.4M65.62 411.79h0.4M69.08 411.44h0.4M73.33 411.88h0.4M74.7 410.86h0.4M78.84 410.43h0.4M80.83 411.06h0.4M87.78 411.58h0.4M91.75 411.74h0.4M96.6 411.86h0.4M100.87 411.47h0.4M106.46 410.09h0.4M108.84 410.35h0.4M112.23 410.76h0.4M115.07 411.91h0.4M118.8 411.88h0.4M122.11 410.2h0.4M124.88 411.52h0.4M28.28 414.14h0.4M30.76 413.13h0.4M37.17 413.52h0.4M41.09 413.68h0.4M44.34 414.55h0.4M46.54 413.14h0.4M49.39 413.29h0.4M52.94 413.7h0.4M62.12 413.87h0.4M65.35 413.08h0.4M67.29 412.74h0.4M70.68 413.21h0.4M73.12 414.04h0.4M82.59 413.86h0.4M85.85 414.47h0.4M89.74 412.97h0.4M91.95 413.93h0.4M95.07 413.23h0.4M99.43 414.01h0.4M101.65 414.01h0.4M103.73 412.91h0.4M107.82 414.65h0.4M111.38 414.67h0.4M113.57 413.64h0.4M117.3 413.85h0.4M120.74 413.75h0.4M122.97 413.87h0.4M125.15 412.96h0.4M30.48 416.88h0.4M32.67 415.64h0.4M35.38 416.72h0.4M38.55 415.38h0.4M44.56 416.84h0.4M48.31 415.98h0.4M54.46 416.38h0.4M57.56 416.2h0.4M60.71 416.15h0.4M62.74 416.1h0.4M66.76 416.36h0.4M69.15 416.08h0.4M72.91 416.23h0.4M74.65 416.45h0.4M79.41 415.77h0.4M81.77 417.25h0.4M87.48 416.16h0.4M91.22 415.52h0.4M96.95 416.89h0.4M102.43 417.19h0.4M106.46 415.91h0.4M109.96 416.57h0.4M112.42 417.29h0.4M114.55 415.78h0.4M117.4 415.38h0.4M120.86 416.37h0.4M124.52 416.73h0.4M34.7 419.19h0.4M36.67 418.29h0.4M41.19 418.08h0.4M43.79 419.78h0.4M46.38 418.29h0.4M50.1 419h0.4M52.45 419.94h0.4M58.18 418.46h0.4M61.65 419.01h0.4M64.47 419.25h0.4M67.42 419.16h0.4M73.6 418.75h0.4M76.76 420.03h0.4M80.85 420.02h0.4M82.59 418.93h0.4M85.77 418.73h0.4M89.68 419.11h0.4M91.88 418.35h0.4M95.3 418.21h0.4M97.99 419.61h0.4M104.03 419.92h0.4M108.39 418.99h0.4M110.19 419.58h0.4M114.49 419.48h0.4M115.84 418.6h0.4M119.57 419.23h0.4M126.3 419.44h0.4M44.19 420.89h0.4M48.8 421.86h0.4M50.4 421.25h0.4M53.54 422.24h0.4M56.63 421.99h0.4M61.02 422.05h0.4M63.85 422.21h0.4M66.3 421.51h0.4M70.32 421.62h0.4M72.81 420.91h0.4M75.76 422.33h0.4M78.15 421.5h0.4M81.54 422.6h0.4M84.31 421.44h0.4M87.12 421.53h0.4M91.16 422.48h0.4M94.09 421.52h0.4M97.06 421.1h0.4M99.99 421.14h0.4M103.72 422.03h0.4M105.58 422.01h0.4M108.75 421.69h0.4M112.45 422.5h0.4M115.33 421.87h0.4M120.64 422.11h0.4M124.38 421.65h0.4M46.82 425.22h0.4M48.94 424.32h0.4M56.62 424.73h0.4M59.23 425.41h0.4M62.31 424.31h0.4M65.78 424.43h0.4M67.27 425.34h0.4M71.9 423.73h0.4M74.44 424.29h0.4M76.59 424.96h0.4M80.63 424.29h0.4M83.02 424.36h0.4M86.21 425.36h0.4M88.6 424.77h0.4M94.57 424.68h0.4M98.41 424.53h0.4M101.79 425.21h0.4M105.17 424.22h0.4M108.23 424.59h0.4M111.46 424.42h0.4M114.7 424.09h0.4M116.87 424h0.4M120.76 424.83h0.4M123.24 424.66h0.4M126.27 424.18h0.4M48.14 426.38h0.4M50.99 426.35h0.4M58.22 427.46h0.4M60.87 426.79h0.4M63.25 427.5h0.4M66.86 427.62h0.4M71.62 426.68h0.4M75.48 427.86h0.4M77.86 426.15h0.4M82.15 427.02h0.4M84.78 426.84h0.4M86.88 428.02h0.4M90.05 426.52h0.4M93.92 427.61h0.4M96.24 427.76h0.4M99.28 427.61h0.4M102.66 426.89h0.4M108.41 428h0.4M113.19 426.61h0.4M118.44 427.8h0.4M121.35 428.03h0.4M123.85 427.83h0.4M59.6 430.36h0.4M62.31 429.19h0.4M67.44 430.43h0.4M70.83 428.85h0.4M74.37 430.22h0.4M77.32 429.13h0.4M80.74 430.37h0.4M83.37 428.8h0.4M86.09 428.94h0.4M90.24 430.17h0.4M92.75 430.54h0.4M99.38 429.1h0.4M101.81 429.49h0.4M104.12 430.29h0.4M111.59 430.32h0.4M114.17 429.03h0.4M116.47 429.74h0.4M118.97 429.67h0.4M122.23 429.46h0.4M124.97 430.75h0.4M69.88 432.5h0.4M72.56 431.87h0.4M75.14 431.91h0.4M78.62 431.55h0.4M82.62 432.5h0.4M84.66 432.88h0.4M87.61 432.65h0.4M91.22 432.33h0.4M93.6 432.76h0.4M96.92 432.47h0.4M99.25 432.4h0.4M103.67 433.17h0.4M107.03 431.88h0.4M108.43 433.07h0.4M114.67 431.95h0.4M118.71 431.56h0.4M121.41 432.59h0.4M125 433.13h0.4" stroke="#6f89d0" stroke-width="1.55" stroke-linecap="round" fill="none" opacity="0.75" filter="url(#blur04)"/>
<path d="M60.12 365.43h0.5M74.11 364.36h0.5M90.72 396.14h0.5M101.75 420.91h0.5M100.33 411.12h0.5M60.32 413.4h0.5M91 377.85h0.5M113.99 395.64h0.5M80.16 376.35h0.5M110.2 395.71h0.5M101.3 421.54h0.5M78.96 403.52h0.5M73.38 379.16h0.5M106.99 427.04h0.5" stroke="#8e5a2c" stroke-width="1.8" stroke-linecap="round" fill="none" opacity="0.55" filter="url(#blur04)"/>
<path d="M81 361.5 L96.7 361.5 C106 366 118 373.5 128.1 379.6 L128.1 395.3 C119 389 110 382.5 102.6 377.6 C94 372 86 366 81 361.5Z" fill="#e6e5e0"/>
<path d="M26 414.5 C32 419 38 422.5 43.6 424.8 C50 427.5 57 430 63.3 431.7 C67 432.6 71 433.3 74 433.6 L26 433.6Z" fill="#e5e3de"/>
<g fill="#85532a" opacity="0.8" filter="url(#blur04)"><circle cx="68.2" cy="416" r="1.6"/><circle cx="79" cy="420.9" r="1.3"/><circle cx="92.8" cy="424.8" r="1.8"/><circle cx="104.5" cy="414" r="1.6"/><circle cx="62.3" cy="418.9" r="1.2"/><circle cx="41.7" cy="413" r="1.1"/><circle cx="35.8" cy="419.9" r="1.2"/><circle cx="114.4" cy="403.2" r="1.2"/><circle cx="108.5" cy="369.8" r="1.3"/><circle cx="122.2" cy="417" r="1.1"/><circle cx="66.2" cy="389.4" r="1.1"/></g>
<text x="110.6" y="432.6" font-size="8.2" textLength="15.4" lengthAdjust="spacingAndGlyphs">20X</text>
<rect x="26" y="443.9" width="102.1" height="72.7" fill="#d4cfc8" />
<ellipse cx="55" cy="475" rx="14" ry="9.8" fill="#a8743e" opacity="0.16" filter="url(#blur1)"/>
<ellipse cx="85" cy="470" rx="12" ry="8.4" fill="#a8743e" opacity="0.16" filter="url(#blur1)"/>
<ellipse cx="70" cy="500" rx="12" ry="8.4" fill="#a8743e" opacity="0.18" filter="url(#blur1)"/>
<ellipse cx="105" cy="490" rx="10" ry="7" fill="#a8743e" opacity="0.14" filter="url(#blur1)"/>
<ellipse cx="40" cy="455" rx="8" ry="5.6" fill="#a8743e" opacity="0.14" filter="url(#blur1)"/>
<ellipse cx="118" cy="460" rx="8" ry="5.6" fill="#a8743e" opacity="0.14" filter="url(#blur1)"/>
<rect x="26" y="443.9" width="102.1" height="72.7" fill="#fff" filter="url(#noise3)" opacity="0.3"/>
<path d="M29.1 445.51h0.4M32.39 446.1h0.4M36.23 445.02h0.4M38.99 444.48h0.4M41.23 444.57h0.4M47.91 444.33h0.4M52.18 444.23h0.4M54 445.42h0.4M57.68 445.1h0.4M61.15 445.26h0.4M62.53 445.99h0.4M65.84 445.99h0.4M69.96 445.86h0.4M72.26 445.86h0.4M76.13 444.3h0.4M79.05 446h0.4M81.71 444.5h0.4M84.81 445.12h0.4M88.61 445.11h0.4M90.29 444.59h0.4M93.59 444.63h0.4M96.7 445.77h0.4M99.35 444.89h0.4M103.38 446.05h0.4M106.63 444.7h0.4M109.68 444.78h0.4M112.07 444.56h0.4M115.14 444.94h0.4M117.88 444.29h0.4M120.56 445.14h0.4M125.02 445.11h0.4M29.29 446.91h0.4M30.66 447.56h0.4M36.48 448.46h0.4M44.09 448.76h0.4M45.98 448.72h0.4M48.84 447.99h0.4M52.67 447.09h0.4M55.94 447.69h0.4M58.7 448.24h0.4M61.82 447.57h0.4M64.38 447.18h0.4M67.19 448.23h0.4M71.25 446.83h0.4M77.64 447.79h0.4M79.58 447.24h0.4M83.71 448.08h0.4M86.5 448.6h0.4M90.18 448.75h0.4M95.16 448.67h0.4M102.09 447.38h0.4M108.32 447.41h0.4M110.9 448.47h0.4M114.6 448.24h0.4M116.98 447.51h0.4M119.8 447.84h0.4M122.41 446.92h0.4M125.47 447.62h0.4M27.46 450.02h0.4M30.46 450.48h0.4M33.68 450.29h0.4M36.88 451.05h0.4M38.5 451.09h0.4M42.71 450.2h0.4M45.69 450.24h0.4M51.77 449.74h0.4M54.62 449.64h0.4M59.54 450.68h0.4M63.71 450.11h0.4M67.29 451.19h0.4M69.23 451.12h0.4M73 450.67h0.4M75.19 450.18h0.4M78.69 449.7h0.4M81.4 449.79h0.4M84.53 450.33h0.4M87 449.91h0.4M90.2 450.97h0.4M93 450.58h0.4M97.6 450.59h0.4M100.76 450.94h0.4M106.96 449.73h0.4M108.97 449.81h0.4M111.32 451.24h0.4M121.73 451.43h0.4M124.13 451.16h0.4M27.94 453.51h0.4M30.63 453.83h0.4M37.05 452.59h0.4M41.06 453.8h0.4M42.82 452.94h0.4M46.37 454.04h0.4M50.07 453.39h0.4M53.1 452.31h0.4M61.09 454.15h0.4M67.69 454.05h0.4M70.98 452.49h0.4M73.81 452.84h0.4M77.74 452.9h0.4M79.25 452.43h0.4M84.01 452.78h0.4M85.74 452.87h0.4M89.45 452.76h0.4M92.95 453.72h0.4M95.59 452.67h0.4M98.05 453.87h0.4M101.78 453.15h0.4M104.26 453.31h0.4M107.35 453.35h0.4M110.62 452.92h0.4M114.14 452.5h0.4M117.42 452.33h0.4M120.34 452.59h0.4M122.38 453.92h0.4M125.16 452.23h0.4M30.8 456.31h0.4M33.05 456.12h0.4M36.58 455.49h0.4M38.83 456.66h0.4M43.01 455.03h0.4M45.06 456.81h0.4M49.11 456.65h0.4M50.5 455.13h0.4M55.15 456.17h0.4M57.49 456.15h0.4M60.74 455.23h0.4M62.53 455.81h0.4M65.9 455.63h0.4M69.03 455.88h0.4M72.36 455.25h0.4M76 455.21h0.4M78.96 456.57h0.4M81.69 456.27h0.4M85.06 455h0.4M87.81 456.61h0.4M94.14 456.07h0.4M96.39 456.43h0.4M99.32 455.32h0.4M103.5 456.03h0.4M106.48 455.96h0.4M109.04 456.82h0.4M111.67 456.02h0.4M116.09 455.63h0.4M117.54 455.61h0.4M121.68 455.73h0.4M124.37 455.93h0.4M29.28 457.92h0.4M32.26 458.73h0.4M34.17 458.49h0.4M40.08 458.62h0.4M43.84 457.67h0.4M46.39 458.15h0.4M48.99 458.5h0.4M55.73 458.46h0.4M59.58 458.6h0.4M62.26 458.55h0.4M64.73 458.42h0.4M68.58 457.84h0.4M71.87 458.54h0.4M74.91 458.99h0.4M78.03 458.77h0.4M79.54 457.84h0.4M84.02 458.23h0.4M86.63 458.73h0.4M90.15 458.62h0.4M92.75 458.4h0.4M94.8 458.62h0.4M98.73 458.1h0.4M100.73 457.77h0.4M104.55 458.66h0.4M107.5 459.06h0.4M110.37 457.76h0.4M113.87 458.69h0.4M116.51 458.18h0.4M119.21 458.49h0.4M122.08 459.21h0.4M125.18 458.42h0.4M26.84 461.58h0.4M30.42 461.14h0.4M32.74 460.46h0.4M35.31 461.09h0.4M41.35 462.12h0.4M45.88 462.17h0.4M48.75 461.21h0.4M51.91 462.09h0.4M53.69 462.04h0.4M58.1 460.65h0.4M59.67 460.5h0.4M64.26 460.98h0.4M66.03 460.35h0.4M69.49 460.87h0.4M76.42 461.36h0.4M78.77 461.45h0.4M85.15 460.29h0.4M89.95 460.24h0.4M93.1 460.48h0.4M96.67 461.97h0.4M100.33 460.92h0.4M106.12 460.77h0.4M108.99 460.59h0.4M112.02 460.5h0.4M116.2 462.07h0.4M118.32 461.73h0.4M121.59 462.15h0.4M125.37 461.46h0.4M27.37 463.43h0.4M31.43 464.13h0.4M34.02 463.17h0.4M37.68 462.94h0.4M40.97 464.41h0.4M43.12 464.33h0.4M46.32 464.83h0.4M50.46 463.16h0.4M53.71 464.28h0.4M56.54 464.14h0.4M62.4 462.89h0.4M77.52 463.95h0.4M80.56 463.15h0.4M82.33 463.56h0.4M87.12 463.33h0.4M89.45 463.3h0.4M91.97 464.33h0.4M95.59 464.62h0.4M98.97 463.08h0.4M101.17 464.66h0.4M108.29 464.5h0.4M111.28 464.01h0.4M113.36 463.41h0.4M116.78 464.61h0.4M119.61 463.41h0.4M122 464.13h0.4M126.75 463.61h0.4M27.26 467.08h0.4M28.97 466.91h0.4M32.94 466.7h0.4M35.2 466.09h0.4M39.38 465.73h0.4M42.27 466.6h0.4M45.84 465.8h0.4M48.81 466.89h0.4M50.42 466.14h0.4M53.52 467.48h0.4M57.44 467.33h0.4M59.67 466.38h0.4M78.51 465.72h0.4M82.18 466.38h0.4M84.22 467.22h0.4M87.62 465.58h0.4M91.6 466.87h0.4M93.11 467.35h0.4M97.18 466.76h0.4M102.2 465.63h0.4M105.2 467.43h0.4M108.88 467.29h0.4M111.67 465.7h0.4M114.87 467.27h0.4M118.41 466.1h0.4M122.21 465.8h0.4M124.03 466.41h0.4M28.02 469.23h0.4M31.34 468.4h0.4M34.18 469.1h0.4M37.37 469.74h0.4M39.68 469.33h0.4M44.17 468.32h0.4M46.84 468.69h0.4M49.26 468.43h0.4M52.36 469.23h0.4M55.67 469.94h0.4M58.19 469.06h0.4M80.94 468.61h0.4M83.59 468.87h0.4M87.08 469.09h0.4M89.54 469.82h0.4M93.05 468.97h0.4M95.29 468.44h0.4M98.75 470.03h0.4M102.33 468.91h0.4M103.66 468.27h0.4M108.39 469.53h0.4M111 468.52h0.4M114.22 469.03h0.4M116.42 468.84h0.4M120.28 469.04h0.4M122.5 468.34h0.4M126.09 469.5h0.4M27.78 471.24h0.4M29.97 471.76h0.4M33.35 471.97h0.4M36.33 471.78h0.4M39.98 471.26h0.4M42.28 472.47h0.4M44.33 471.47h0.4M47.57 471.01h0.4M54.76 472.08h0.4M56.35 471.81h0.4M78.31 472.32h0.4M84.07 470.98h0.4M87.73 472h0.4M89.92 472.81h0.4M93.27 471.19h0.4M96.27 472.37h0.4M99.25 471.67h0.4M103.15 471.08h0.4M106.08 471.98h0.4M108.44 472.34h0.4M113.03 471.71h0.4M120.65 472.23h0.4M124.52 472.42h0.4M28.73 474.05h0.4M30.65 473.97h0.4M34.07 473.64h0.4M38.3 475.3h0.4M40.51 473.89h0.4M42.6 475.53h0.4M45.97 474.45h0.4M52.35 473.76h0.4M59.51 474.44h0.4M77.2 474.2h0.4M79.31 475.28h0.4M82.63 473.73h0.4M92.08 475.03h0.4M97.67 474.42h0.4M101.35 473.76h0.4M104.93 475.55h0.4M107.32 474.86h0.4M114.06 474.13h0.4M116.56 475.4h0.4M120.24 474.87h0.4M123.01 475.32h0.4M124.93 474.24h0.4M26.94 477.26h0.4M30.58 476.81h0.4M32.2 477.36h0.4M36.36 476.33h0.4M38.3 476.92h0.4M42.75 477.78h0.4M44.15 476.88h0.4M48.62 477.07h0.4M50.83 477.36h0.4M53.98 478.15h0.4M57.63 478.02h0.4M59.87 477.81h0.4M63.45 477.71h0.4M75.22 477.87h0.4M78.17 476.55h0.4M81.92 477.11h0.4M85.69 476.51h0.4M87.27 476.81h0.4M90.12 477.83h0.4M93.45 476.99h0.4M96.02 477.78h0.4M100.31 478.24h0.4M102.11 476.91h0.4M109.88 478.23h0.4M112.59 476.93h0.4M115.9 477.63h0.4M118.6 477.68h0.4M121.77 476.56h0.4M124.09 476.49h0.4M28.54 479.13h0.4M30.46 480.37h0.4M33.47 480.22h0.4M37.59 480.93h0.4M41.32 480.07h0.4M43.13 479.2h0.4M46.07 480.17h0.4M49.19 480.3h0.4M52.58 480.56h0.4M55.06 479.17h0.4M59.28 480h0.4M62.77 479.02h0.4M64.88 480.77h0.4M68.66 479.44h0.4M71.59 479.74h0.4M73.91 479.68h0.4M77.49 480.97h0.4M79.6 479.12h0.4M83.24 480.11h0.4M85.53 480.69h0.4M89.89 479.78h0.4M93.05 480.82h0.4M94.55 479.61h0.4M99.11 480.77h0.4M100.73 479.55h0.4M103.84 479.69h0.4M108.08 479.92h0.4M110.27 480.44h0.4M112.89 480.84h0.4M116.27 479.16h0.4M120.54 479.91h0.4M126.22 480.19h0.4M29.91 483.56h0.4M33.53 483.26h0.4M35.57 483.67h0.4M39.99 483.56h0.4M41.2 482.49h0.4M44.89 482.04h0.4M47.34 482.87h0.4M50.87 482.89h0.4M54.75 482.61h0.4M57.94 483.51h0.4M59.87 482.37h0.4M62.99 482.55h0.4M66.99 481.84h0.4M68.97 482.53h0.4M72.03 483.55h0.4M74.67 483.14h0.4M79.49 482.95h0.4M84.1 482.08h0.4M86.8 483.28h0.4M90.45 481.97h0.4M93.93 483.65h0.4M97.07 483.07h0.4M99.31 483.51h0.4M102.72 483.59h0.4M106.78 483.08h0.4M108.88 481.87h0.4M112.66 482.33h0.4M114.91 481.84h0.4M118.59 482.92h0.4M121.56 482.5h0.4M27.58 484.83h0.4M31.84 485.4h0.4M35.23 485.2h0.4M41.47 485.54h0.4M44.47 485.45h0.4M46.94 484.84h0.4M49.05 484.82h0.4M53.12 485.99h0.4M55.77 486.05h0.4M58.3 485.64h0.4M62.68 484.43h0.4M65.09 484.9h0.4M67.56 484.52h0.4M70.15 485.52h0.4M74.06 486.29h0.4M77.25 485.94h0.4M82.24 485.62h0.4M86.97 485.4h0.4M89.17 484.89h0.4M95.36 485.94h0.4M105.54 485.49h0.4M110.16 484.61h0.4M113.85 485.65h0.4M117.52 486.34h0.4M119.88 485.25h0.4M122.26 485.47h0.4M125.49 484.49h0.4M27.58 487.35h0.4M33.83 487.09h0.4M35.03 487.13h0.4M38.55 488.97h0.4M41.6 488.07h0.4M44.13 488.8h0.4M48.58 488.72h0.4M50.23 488.42h0.4M54.56 488.2h0.4M56.46 487.8h0.4M63.53 488.49h0.4M66.02 488.11h0.4M69.8 488.08h0.4M72.88 487.94h0.4M75.04 487.42h0.4M78.68 487.86h0.4M80.78 488.7h0.4M84.1 487.58h0.4M88.79 488.2h0.4M90.42 488.85h0.4M94.6 487.7h0.4M100.72 488.12h0.4M103.13 487.55h0.4M106.84 487.42h0.4M108.4 487.13h0.4M111.95 487.27h0.4M115.11 488.03h0.4M118.46 487.1h0.4M120.67 487.65h0.4M123.97 487.46h0.4M27.33 490.45h0.4M31.53 491.47h0.4M34.51 490h0.4M38.25 490.93h0.4M40.35 491.24h0.4M44.4 491.28h0.4M47.15 490.71h0.4M49.65 491.13h0.4M52.35 490.32h0.4M56.53 490.69h0.4M59.62 490.02h0.4M62.19 491.33h0.4M64.44 491.35h0.4M67.03 490h0.4M70.63 489.96h0.4M74.64 489.97h0.4M77.79 490.54h0.4M79.4 490.06h0.4M82.75 490.23h0.4M89.05 490.75h0.4M92.16 490.17h0.4M94.74 491.56h0.4M97.81 489.79h0.4M101.23 491.52h0.4M105.35 491.51h0.4M108.38 491.35h0.4M111.44 491.63h0.4M120.26 491.01h0.4M122.78 490.55h0.4M33.1 493.43h0.4M35.51 493.54h0.4M38.83 493.12h0.4M42.84 494.24h0.4M48.27 493.59h0.4M50.54 493.28h0.4M54.93 493.91h0.4M60.68 493.63h0.4M64.34 494.17h0.4M65.93 494.16h0.4M69.48 493.14h0.4M72.51 493.27h0.4M75.36 492.42h0.4M78.93 493.39h0.4M81.85 493.54h0.4M84.47 493.18h0.4M87.37 493.56h0.4M91.57 493.11h0.4M94.3 492.68h0.4M95.99 494.14h0.4M99.33 493.46h0.4M102.91 493.1h0.4M106.69 493.5h0.4M109.83 492.68h0.4M111.64 492.99h0.4M118.81 494.23h0.4M122.08 492.67h0.4M124.85 493.49h0.4M27.83 496.57h0.4M30.38 496.57h0.4M34.55 495.51h0.4M38.39 496.99h0.4M40.46 495.65h0.4M43.44 496.66h0.4M46.87 496.01h0.4M49.48 496.07h0.4M52.77 497.04h0.4M55.03 495.37h0.4M59.33 496.84h0.4M61.48 495.37h0.4M65.47 496.94h0.4M71.38 495.59h0.4M74.52 496.76h0.4M77.58 496.93h0.4M79.4 495.57h0.4M84.15 496.54h0.4M86.24 496.22h0.4M89.16 496.47h0.4M91.72 495.64h0.4M94.75 495.2h0.4M97.66 495.83h0.4M102.05 495.45h0.4M108.1 495.99h0.4M110.48 495.1h0.4M113.63 495.5h0.4M117.29 496.7h0.4M122.47 496.21h0.4M125.8 496.13h0.4M29.73 498.36h0.4M33.33 497.91h0.4M36.4 498.04h0.4M39.09 498.74h0.4M41.9 498.43h0.4M44.67 499.16h0.4M48.68 498.35h0.4M50.28 499.39h0.4M54.19 499.18h0.4M57.05 498.41h0.4M59.95 498.62h0.4M62.41 499.4h0.4M65.88 498.84h0.4M70.47 498.11h0.4M72.24 499.61h0.4M75.03 498.16h0.4M78.3 498.65h0.4M82.57 499.04h0.4M87.9 498.99h0.4M90.66 498.96h0.4M93.24 497.88h0.4M97.91 498.2h0.4M99.1 498.48h0.4M105.97 499.61h0.4M108.77 499.76h0.4M112.07 499.37h0.4M116.02 499.25h0.4M118.47 499.73h0.4M121.12 499.48h0.4M123.55 498.91h0.4M27.89 500.92h0.4M31.52 500.72h0.4M34.58 501.76h0.4M36.56 500.68h0.4M39.62 500.99h0.4M49.43 502.38h0.4M52.12 501.81h0.4M56.64 501.27h0.4M59.74 501.95h0.4M62.04 501.72h0.4M64.69 501.94h0.4M68.08 501.68h0.4M70.49 500.94h0.4M74.78 501.77h0.4M77.88 501.73h0.4M79.4 501.55h0.4M83.99 502.15h0.4M85.98 501.53h0.4M89.25 502.33h0.4M92.5 500.64h0.4M94.7 501.02h0.4M100.89 501.8h0.4M103.64 501.39h0.4M108.53 500.76h0.4M110.54 502.42h0.4M113.7 502.24h0.4M116.49 500.87h0.4M119.4 500.8h0.4M123.73 500.88h0.4M125.87 501.53h0.4M27.62 504.78h0.4M29.54 504.68h0.4M32.6 504.9h0.4M35.6 504.11h0.4M42.55 503.55h0.4M47.56 504.97h0.4M50.46 503.6h0.4M54.25 504.47h0.4M57.6 504.38h0.4M61.3 504.01h0.4M62.44 504.06h0.4M66.85 504.55h0.4M68.86 503.47h0.4M72.15 504.67h0.4M74.78 504.91h0.4M79.65 504.63h0.4M81.15 503.51h0.4M85.44 504.22h0.4M88.24 504.54h0.4M91.81 504.54h0.4M93.55 505.1h0.4M96.54 503.85h0.4M99 504.67h0.4M102.39 503.95h0.4M107.07 504.33h0.4M112.95 504.39h0.4M114.93 504.75h0.4M117.34 503.18h0.4M122.29 503.4h0.4M125.17 504.12h0.4M28.9 507.82h0.4M31.45 506.65h0.4M34.62 506.59h0.4M37.67 507.66h0.4M41.31 507.72h0.4M44.04 507.52h0.4M46.77 506.82h0.4M50.32 505.96h0.4M52.67 507.24h0.4M56 505.89h0.4M59.29 507.71h0.4M62.45 507.78h0.4M65.78 507.47h0.4M71.23 506.36h0.4M73.6 506.74h0.4M77.12 506.59h0.4M79.19 507.19h0.4M84.02 507.72h0.4M85.46 507.6h0.4M89.88 507.5h0.4M92.13 507.18h0.4M95.34 506.46h0.4M99.02 506.16h0.4M100.98 506.17h0.4M103.62 506.58h0.4M108.24 507.51h0.4M110.83 506.71h0.4M113.61 507.73h0.4M117.69 507.46h0.4M119.14 507.5h0.4M122.86 507.38h0.4M126.41 506.93h0.4M29.62 509.74h0.4M32.52 509.94h0.4M38.58 509.03h0.4M41.62 509.83h0.4M45.62 510.38h0.4M47.35 509.11h0.4M54.41 509.43h0.4M57.51 509.53h0.4M60.27 509.17h0.4M63.55 509.65h0.4M69.01 509.54h0.4M73.31 509.76h0.4M75.39 509.56h0.4M85.02 510.49h0.4M88.74 508.99h0.4M90.31 509.32h0.4M94.84 509.48h0.4M96.33 509.27h0.4M100.84 509.35h0.4M102.19 509.85h0.4M106.44 510.14h0.4M108.75 509.83h0.4M112.63 508.96h0.4M115.2 509.2h0.4M118.36 510.42h0.4M122.11 509.97h0.4M124.6 510.29h0.4M28.02 511.6h0.4M31.48 511.55h0.4M34.56 512.76h0.4M37.25 513.03h0.4M40.1 512.85h0.4M44.01 511.67h0.4M46.94 512.29h0.4M49.1 511.97h0.4M53.25 512.27h0.4M55.63 512.47h0.4M58.72 512.28h0.4M65.82 511.31h0.4M68.73 512.02h0.4M70.81 513.1h0.4M77.66 511.49h0.4M83.63 512.15h0.4M86.06 512.94h0.4M89.2 513.13h0.4M91.46 512.95h0.4M99.45 511.63h0.4M101.47 512.74h0.4M105.22 511.32h0.4M110.14 512.35h0.4M113.76 511.64h0.4M116.17 511.52h0.4M123.83 511.95h0.4M30.58 515.68h0.4M33.71 514.12h0.4M35.55 515.05h0.4M39.84 513.89h0.4M42.18 514.53h0.4M44.66 515.44h0.4M48.08 515.69h0.4M50.66 514.07h0.4M53.62 515.88h0.4M58.1 515.86h0.4M60.08 514.24h0.4M62.89 515.31h0.4M67.33 514.61h0.4M69.97 515.24h0.4M73.21 514.6h0.4M76.11 515.83h0.4M79.59 515.85h0.4M81.35 514.47h0.4M84.05 515.02h0.4M87.54 515.09h0.4M93.43 515.68h0.4M96.35 514.15h0.4M100.78 515.09h0.4M102.05 513.96h0.4M105.9 513.97h0.4M109.38 515.5h0.4M112.86 515.03h0.4M118.29 515.54h0.4M120.63 515.74h0.4M124.38 514.89h0.4" stroke="#6f89d0" stroke-width="1.55" stroke-linecap="round" fill="none" opacity="0.75" filter="url(#blur04)"/>
<path d="M106.08 496.79h0.5M88.24 514.03h0.5M101.76 490.63h0.5M102.43 449.91h0.5M97.29 503.27h0.5M108.03 456.77h0.5M29.45 512.84h0.5M72.25 496.85h0.5M111.84 453.92h0.5M44.46 461.47h0.5M63.88 483.23h0.5M110.83 472.85h0.5M102.16 447.44h0.5M43.57 504.18h0.5" stroke="#8e5a2c" stroke-width="1.8" stroke-linecap="round" fill="none" opacity="0.55" filter="url(#blur04)"/>
<path d="M60 466 C61 462.5 66 461.3 71 461.6 C75.5 462 78.5 464.5 78 468.5 C77.5 472.5 75 477 71.5 478.3 C68 479 66 476 64.5 473.5 C63 471.5 59.5 469.5 60 466Z" fill="#eaeae6"/>
<path d="M75.5 503 C76 506 76.5 508.5 77.5 511 L79 511 C78 508.5 77.5 506 77 503Z" fill="#ece8e0" opacity="0.8"/>
<text x="111.4" y="513.2" font-size="8.2" textLength="14.8" lengthAdjust="spacingAndGlyphs">20X</text>
<rect x="293.05" y="264.39" width="20.9" height="41.11" fill="#858585" stroke="#000" stroke-width="1.5" />
<rect x="328.15" y="230.18" width="20.5" height="75.32" fill="#d0d0d0" stroke="#000" stroke-width="1.5" />
<line x1="303.5" y1="251.56" x2="303.5" y2="275.63" stroke="#222" stroke-width="0.9" />
<line x1="298.3" y1="251.56" x2="308.7" y2="251.56" stroke="#222" stroke-width="0.9" />
<line x1="298.3" y1="275.63" x2="308.7" y2="275.63" stroke="#222" stroke-width="0.9" />
<line x1="338.4" y1="207.69" x2="338.4" y2="249.55" stroke="#222" stroke-width="0.9" />
<line x1="333" y1="207.69" x2="343.8" y2="207.69" stroke="#222" stroke-width="0.9" />
<line x1="333" y1="249.55" x2="343.8" y2="249.55" stroke="#222" stroke-width="0.9" />
<circle cx="300" cy="252.77" r="1.8" fill="#000"/>
<circle cx="307.4" cy="252.77" r="1.8" fill="#000"/>
<circle cx="307.4" cy="272.09" r="1.8" fill="#000"/>
<circle cx="300" cy="275.63" r="1.8" fill="#000"/>
<rect x="336.75" y="198.64" width="3.3" height="3.3" fill="#000" />
<rect x="336.75" y="227.05" width="3.3" height="3.3" fill="#000" />
<rect x="336.75" y="235.67" width="3.3" height="3.3" fill="#000" />
<rect x="336.75" y="247.82" width="3.3" height="3.3" fill="#000" />
<line x1="280.6" y1="184.05" x2="280.6" y2="306.2" stroke="#000" stroke-width="1.5" />
<line x1="279.9" y1="305.5" x2="361.6" y2="305.5" stroke="#000" stroke-width="1.5" />
<line x1="275.6" y1="305.5" x2="280.6" y2="305.5" stroke="#000" stroke-width="1.5" />
<text x="275" y="308.65" text-anchor="end" font-weight="bold" font-size="8.8">0</text>
<line x1="275.6" y1="265.25" x2="280.6" y2="265.25" stroke="#000" stroke-width="1.5" />
<text x="275" y="268.4" text-anchor="end" font-weight="bold" font-size="8.8">5</text>
<line x1="275.6" y1="225" x2="280.6" y2="225" stroke="#000" stroke-width="1.5" />
<text x="275" y="228.15" text-anchor="end" font-weight="bold" font-size="8.8">10</text>
<line x1="275.6" y1="184.75" x2="280.6" y2="184.75" stroke="#000" stroke-width="1.5" />
<text x="275" y="187.9" text-anchor="end" font-weight="bold" font-size="8.8">15</text>
<line x1="303.5" y1="305.5" x2="303.5" y2="310.3" stroke="#000" stroke-width="1.5" />
<text x="303.5" y="319.3" text-anchor="middle" font-weight="bold" font-size="9.3" textLength="35.3" lengthAdjust="spacingAndGlyphs">Control</text>
<line x1="338.4" y1="305.5" x2="338.4" y2="310.3" stroke="#000" stroke-width="1.5" />
<text x="338.4" y="319.3" text-anchor="middle" font-weight="bold" font-size="9.3" textLength="24.8" lengthAdjust="spacingAndGlyphs">ETOH</text>
<text transform="translate(262.4,245.2) rotate(-90)" text-anchor="middle" font-weight="bold" font-size="9.25" textLength="110" lengthAdjust="spacingAndGlyphs">ALT specific activity(U/L)</text>
<text x="338.3" y="202.7" font-size="19.5" text-anchor="middle">*</text>
<rect x="447.65" y="282.96" width="21" height="22.84" fill="#828282" stroke="#000" stroke-width="1.5" />
<rect x="482.65" y="230.56" width="20.3" height="75.24" fill="#d2d2d2" stroke="#000" stroke-width="1.5" />
<line x1="458.1" y1="277.79" x2="458.1" y2="286.44" stroke="#222" stroke-width="0.9" />
<line x1="453.1" y1="277.79" x2="463.1" y2="277.79" stroke="#222" stroke-width="0.9" />
<line x1="453.1" y1="286.44" x2="463.1" y2="286.44" stroke="#222" stroke-width="0.9" />
<line x1="492.8" y1="207.43" x2="492.8" y2="251.23" stroke="#222" stroke-width="0.9" />
<line x1="487.4" y1="207.43" x2="498.2" y2="207.43" stroke="#222" stroke-width="0.9" />
<line x1="487.4" y1="251.23" x2="498.2" y2="251.23" stroke="#222" stroke-width="0.9" />
<circle cx="457.8" cy="276.7" r="1.8" fill="#000"/>
<circle cx="454.5" cy="284.99" r="1.8" fill="#000"/>
<circle cx="462" cy="284.99" r="1.8" fill="#000"/>
<circle cx="458.1" cy="283.11" r="1.8" fill="#000"/>
<rect x="491.15" y="205.78" width="3.3" height="3.3" fill="#000" />
<rect x="487.35" y="223.14" width="3.3" height="3.3" fill="#000" />
<rect x="494.85" y="223.75" width="3.3" height="3.3" fill="#000" />
<rect x="491.05" y="257.63" width="3.3" height="3.3" fill="#000" />
<line x1="434.6" y1="184.1" x2="434.6" y2="306.5" stroke="#000" stroke-width="1.5" />
<line x1="433.9" y1="305.8" x2="514.5" y2="305.8" stroke="#000" stroke-width="1.5" />
<line x1="429.6" y1="305.8" x2="434.6" y2="305.8" stroke="#000" stroke-width="1.5" />
<text x="429" y="308.95" text-anchor="end" font-weight="bold" font-size="8.8">0</text>
<line x1="429.6" y1="275.55" x2="434.6" y2="275.55" stroke="#000" stroke-width="1.5" />
<text x="429" y="278.7" text-anchor="end" font-weight="bold" font-size="8.8">5</text>
<line x1="429.6" y1="245.3" x2="434.6" y2="245.3" stroke="#000" stroke-width="1.5" />
<text x="429" y="248.45" text-anchor="end" font-weight="bold" font-size="8.8">10</text>
<line x1="429.6" y1="215.05" x2="434.6" y2="215.05" stroke="#000" stroke-width="1.5" />
<text x="429" y="218.2" text-anchor="end" font-weight="bold" font-size="8.8">15</text>
<line x1="429.6" y1="184.8" x2="434.6" y2="184.8" stroke="#000" stroke-width="1.5" />
<text x="429" y="187.95" text-anchor="end" font-weight="bold" font-size="8.8">20</text>
<line x1="458" y1="305.8" x2="458" y2="310.6" stroke="#000" stroke-width="1.5" />
<text x="458" y="319.4" text-anchor="middle" font-weight="bold" font-size="9.3" textLength="32.7" lengthAdjust="spacingAndGlyphs">Control</text>
<line x1="493.2" y1="305.8" x2="493.2" y2="310.6" stroke="#000" stroke-width="1.5" />
<text x="493.2" y="319.4" text-anchor="middle" font-weight="bold" font-size="9.3" textLength="24.2" lengthAdjust="spacingAndGlyphs">ETOH</text>
<text transform="translate(418.2,245.8) rotate(-90)" text-anchor="middle" font-weight="bold" font-size="9.3" textLength="110" lengthAdjust="spacingAndGlyphs">AST specific activity(U/L)</text>
<text x="493.7" y="212.2" font-size="19.5" text-anchor="middle">**</text>
<text x="198.5" y="370.1" text-anchor="middle" fill="#222" font-size="8" textLength="17.3" lengthAdjust="spacingAndGlyphs">Liver</text>
<rect x="179.15" y="442.06" width="20.9" height="52.04" fill="#7f7f7f" stroke="#000" stroke-width="1.5" />
<rect x="213.75" y="402.56" width="20.7" height="91.54" fill="#d3d3d3" stroke="#000" stroke-width="1.5" />
<line x1="189.6" y1="436.47" x2="189.6" y2="445.74" stroke="#222" stroke-width="0.9" />
<line x1="184.6" y1="436.47" x2="194.6" y2="436.47" stroke="#222" stroke-width="0.9" />
<line x1="184.6" y1="445.74" x2="194.6" y2="445.74" stroke="#222" stroke-width="0.9" />
<line x1="224" y1="395.37" x2="224" y2="407.05" stroke="#222" stroke-width="0.9" />
<line x1="219" y1="395.37" x2="229" y2="395.37" stroke="#222" stroke-width="0.9" />
<line x1="219" y1="407.05" x2="229" y2="407.05" stroke="#222" stroke-width="0.9" />
<circle cx="189.3" cy="433.25" r="1.8" fill="#000"/>
<circle cx="182.7" cy="444.13" r="1.8" fill="#000"/>
<circle cx="189.3" cy="443.73" r="1.8" fill="#000"/>
<circle cx="196.6" cy="439.7" r="1.8" fill="#000"/>
<circle cx="196.6" cy="443.73" r="1.8" fill="#000"/>
<rect x="222.15" y="391.3" width="3.3" height="3.3" fill="#000" />
<rect x="218.55" y="398.15" width="3.3" height="3.3" fill="#000" />
<rect x="225.75" y="398.15" width="3.3" height="3.3" fill="#000" />
<rect x="222.15" y="408.63" width="3.3" height="3.3" fill="#000" />
<rect x="222.15" y="404.6" width="3.3" height="3.3" fill="#000" />
<line x1="166.5" y1="372.5" x2="166.5" y2="494.8" stroke="#000" stroke-width="1.5" />
<line x1="165.8" y1="494.1" x2="247.8" y2="494.1" stroke="#000" stroke-width="1.5" />
<line x1="161.5" y1="494.1" x2="166.5" y2="494.1" stroke="#000" stroke-width="1.5" />
<text x="159.6" y="497.25" text-anchor="end" font-weight="bold" font-size="8.8">0</text>
<line x1="161.5" y1="453.8" x2="166.5" y2="453.8" stroke="#000" stroke-width="1.5" />
<text x="159.6" y="456.95" text-anchor="end" font-weight="bold" font-size="8.8">1</text>
<line x1="161.5" y1="413.5" x2="166.5" y2="413.5" stroke="#000" stroke-width="1.5" />
<text x="159.6" y="416.65" text-anchor="end" font-weight="bold" font-size="8.8">2</text>
<line x1="161.5" y1="373.2" x2="166.5" y2="373.2" stroke="#000" stroke-width="1.5" />
<text x="159.6" y="376.35" text-anchor="end" font-weight="bold" font-size="8.8">3</text>
<line x1="189.6" y1="494.1" x2="189.6" y2="498.9" stroke="#000" stroke-width="1.5" />
<text x="189.6" y="508.4" text-anchor="middle" font-weight="bold" font-size="9.3" textLength="35" lengthAdjust="spacingAndGlyphs">Control</text>
<line x1="224" y1="494.1" x2="224" y2="498.9" stroke="#000" stroke-width="1.5" />
<text x="224" y="508.4" text-anchor="middle" font-weight="bold" font-size="9.3" textLength="26" lengthAdjust="spacingAndGlyphs">ETOH</text>
<text transform="translate(140.3,434) rotate(-90)" text-anchor="middle" font-weight="bold" font-size="9.3" textLength="70.1" lengthAdjust="spacingAndGlyphs">Relative level of</text>
<text transform="translate(150.5,434) rotate(-90)" text-anchor="middle" font-weight="bold" font-size="9.3" textLength="116.9" lengthAdjust="spacingAndGlyphs">APOA4 protein expression</text>
<text x="223.4" y="397.2" font-size="19" text-anchor="middle">*</text>
<text x="327.3" y="371.9" text-anchor="middle" fill="#222" font-size="7.8" textLength="23" lengthAdjust="spacingAndGlyphs">Serum</text>
<rect x="305.75" y="464.94" width="20.7" height="30.86" fill="#8a8a8a" stroke="#000" stroke-width="1.5" />
<rect x="340.15" y="407.75" width="20.9" height="88.05" fill="#a9a9a9" stroke="#000" stroke-width="1.5" />
<line x1="316" y1="459.68" x2="316" y2="467.21" stroke="#222" stroke-width="0.9" />
<line x1="310.5" y1="459.68" x2="321.5" y2="459.68" stroke="#222" stroke-width="0.9" />
<line x1="310.5" y1="467.21" x2="321.5" y2="467.21" stroke="#222" stroke-width="0.9" />
<line x1="350.2" y1="392.26" x2="350.2" y2="418.44" stroke="#222" stroke-width="0.9" />
<line x1="344.7" y1="392.26" x2="355.7" y2="392.26" stroke="#222" stroke-width="0.9" />
<line x1="344.7" y1="418.44" x2="355.7" y2="418.44" stroke="#222" stroke-width="0.9" />
<circle cx="316.2" cy="458.48" r="1.8" fill="#000"/>
<circle cx="312.3" cy="462.39" r="1.8" fill="#000"/>
<circle cx="312.3" cy="467.51" r="1.8" fill="#000"/>
<circle cx="320" cy="466.3" r="1.8" fill="#000"/>
<rect x="349.35" y="390" width="3.3" height="3.3" fill="#000" />
<rect x="349.35" y="397.83" width="3.3" height="3.3" fill="#000" />
<rect x="345.65" y="416.79" width="3.3" height="3.3" fill="#000" />
<rect x="353.05" y="415.29" width="3.3" height="3.3" fill="#000" />
<line x1="293.3" y1="374.7" x2="293.3" y2="496.5" stroke="#000" stroke-width="1.5" />
<line x1="292.6" y1="495.8" x2="367.8" y2="495.8" stroke="#000" stroke-width="1.5" />
<line x1="288.3" y1="495.8" x2="293.3" y2="495.8" stroke="#000" stroke-width="1.5" />
<text x="286.2" y="498.95" text-anchor="end" font-weight="bold" font-size="8.8">0</text>
<line x1="288.3" y1="465.7" x2="293.3" y2="465.7" stroke="#000" stroke-width="1.5" />
<text x="286.2" y="468.85" text-anchor="end" font-weight="bold" font-size="8.8">1</text>
<line x1="288.3" y1="435.6" x2="293.3" y2="435.6" stroke="#000" stroke-width="1.5" />
<text x="286.2" y="438.75" text-anchor="end" font-weight="bold" font-size="8.8">2</text>
<line x1="288.3" y1="405.5" x2="293.3" y2="405.5" stroke="#000" stroke-width="1.5" />
<text x="286.2" y="408.65" text-anchor="end" font-weight="bold" font-size="8.8">3</text>
<line x1="288.3" y1="375.4" x2="293.3" y2="375.4" stroke="#000" stroke-width="1.5" />
<text x="286.2" y="378.55" text-anchor="end" font-weight="bold" font-size="8.8">4</text>
<line x1="316" y1="495.8" x2="316" y2="500.6" stroke="#000" stroke-width="1.5" />
<text x="316" y="510.6" text-anchor="middle" font-weight="bold" font-size="9.3" textLength="37.2" lengthAdjust="spacingAndGlyphs">Control</text>
<line x1="350.2" y1="495.8" x2="350.2" y2="500.6" stroke="#000" stroke-width="1.5" />
<text x="350.2" y="510.6" text-anchor="middle" font-weight="bold" font-size="9.3" textLength="25.5" lengthAdjust="spacingAndGlyphs">ETOH</text>
<text transform="translate(268.6,435) rotate(-90)" text-anchor="middle" font-weight="bold" font-size="9.5" textLength="72.7" lengthAdjust="spacingAndGlyphs">Relative level of</text>
<text transform="translate(279,434.3) rotate(-90)" text-anchor="middle" font-weight="bold" font-size="9.5" textLength="120.3" lengthAdjust="spacingAndGlyphs">APOA4 protein expression</text>
<text x="350.4" y="394.6" font-size="18.3" text-anchor="middle">**</text>
<text x="468.6" y="370.3" text-anchor="middle" fill="#1a1a1a" font-size="8.2" textLength="28.6" lengthAdjust="spacingAndGlyphs">AML-12</text>
<rect x="449.95" y="453.85" width="20.1" height="42.45" fill="#808080" stroke="#000" stroke-width="1.5" />
<rect x="485.05" y="397.05" width="20" height="99.25" fill="#a8a8a8" stroke="#000" stroke-width="1.5" />
<line x1="460" y1="451.1" x2="460" y2="454.3" stroke="#222" stroke-width="0.9" />
<line x1="455.4" y1="451.1" x2="464.6" y2="451.1" stroke="#222" stroke-width="0.9" />
<line x1="455.4" y1="454.3" x2="464.6" y2="454.3" stroke="#222" stroke-width="0.9" />
<line x1="494.4" y1="383.1" x2="494.4" y2="407.5" stroke="#222" stroke-width="0.9" />
<line x1="489.1" y1="383.1" x2="499.7" y2="383.1" stroke="#222" stroke-width="0.9" />
<line x1="489.1" y1="407.5" x2="499.7" y2="407.5" stroke="#222" stroke-width="0.9" />
<circle cx="450.4" cy="450.7" r="1.8" fill="#000"/>
<circle cx="456.5" cy="452.3" r="1.8" fill="#000"/>
<circle cx="463" cy="454.3" r="1.8" fill="#000"/>
<circle cx="469.5" cy="452.3" r="1.8" fill="#000"/>
<circle cx="450.4" cy="453.9" r="1.8" fill="#000"/>
<rect x="492.85" y="382.65" width="3.3" height="3.3" fill="#000" />
<rect x="496.65" y="386.65" width="3.3" height="3.3" fill="#000" />
<rect x="489.05" y="389.45" width="3.3" height="3.3" fill="#000" />
<rect x="492.75" y="395.85" width="3.3" height="3.3" fill="#000" />
<rect x="492.75" y="413.45" width="3.3" height="3.3" fill="#000" />
<line x1="436.8" y1="375.6" x2="436.8" y2="497" stroke="#000" stroke-width="1.5" />
<line x1="436.1" y1="496.3" x2="510.4" y2="496.3" stroke="#000" stroke-width="1.5" />
<line x1="431.8" y1="496.3" x2="436.8" y2="496.3" stroke="#000" stroke-width="1.5" />
<text x="431" y="499.45" text-anchor="end" font-weight="bold" font-size="8.8">0</text>
<line x1="431.8" y1="456.3" x2="436.8" y2="456.3" stroke="#000" stroke-width="1.5" />
<text x="431" y="459.45" text-anchor="end" font-weight="bold" font-size="8.8">1</text>
<line x1="431.8" y1="416.3" x2="436.8" y2="416.3" stroke="#000" stroke-width="1.5" />
<text x="431" y="419.45" text-anchor="end" font-weight="bold" font-size="8.8">2</text>
<line x1="431.8" y1="376.3" x2="436.8" y2="376.3" stroke="#000" stroke-width="1.5" />
<text x="431" y="379.45" text-anchor="end" font-weight="bold" font-size="8.8">3</text>
<line x1="459.9" y1="496.3" x2="459.9" y2="501.1" stroke="#000" stroke-width="1.5" />
<text x="459.9" y="510.8" text-anchor="middle" font-weight="bold" font-size="9.3" textLength="36.8" lengthAdjust="spacingAndGlyphs">Control</text>
<line x1="494.6" y1="496.3" x2="494.6" y2="501.1" stroke="#000" stroke-width="1.5" />
<text x="494.6" y="510.8" text-anchor="middle" font-weight="bold" font-size="9.3" textLength="26.5" lengthAdjust="spacingAndGlyphs">ETOH</text>
<text transform="translate(411,435.5) rotate(-90)" text-anchor="middle" font-weight="bold" font-size="9.5" textLength="71.5" lengthAdjust="spacingAndGlyphs">Relative level of</text>
<text transform="translate(421.4,434.4) rotate(-90)" text-anchor="middle" font-weight="bold" font-size="9.5" textLength="116.3" lengthAdjust="spacingAndGlyphs">APOA4 mRNA expression</text>
<text x="494.4" y="386.6" font-size="14" text-anchor="middle">*</text>
</svg></body></html>
